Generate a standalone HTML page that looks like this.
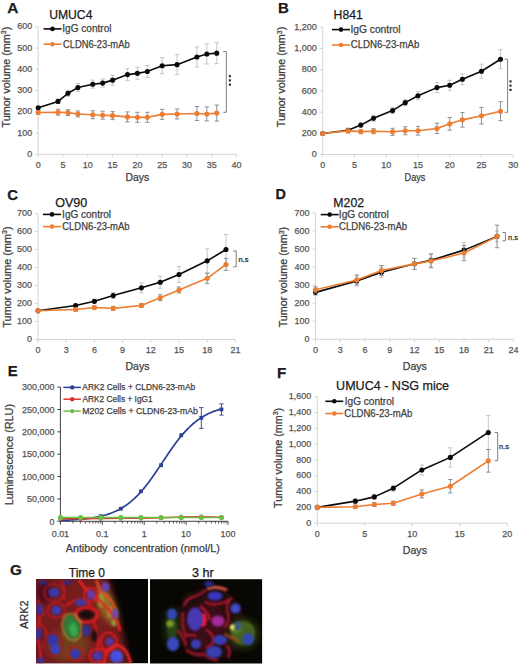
<!DOCTYPE html>
<html><head><meta charset="utf-8"><style>
html,body{margin:0;padding:0;background:#fff;}
svg{display:block;font-family:"Liberation Sans", sans-serif;}
text{stroke-width:0.25px;}
</style></head><body>
<svg width="520" height="666" viewBox="0 0 520 666">
<line x1="38.20" y1="26.80" x2="38.20" y2="154.30" stroke="#d4d4d4" stroke-width="1"/>
<line x1="38.20" y1="154.30" x2="236.60" y2="154.30" stroke="#d4d4d4" stroke-width="1"/>
<line x1="35.20" y1="154.30" x2="38.20" y2="154.30" stroke="#d4d4d4" stroke-width="1"/>
<text x="32.20" y="156.90" font-size="9.6" fill="#555555" stroke="#555555" text-anchor="end" textLength="4.99" lengthAdjust="spacingAndGlyphs" >0</text>
<line x1="35.20" y1="133.05" x2="38.20" y2="133.05" stroke="#d4d4d4" stroke-width="1"/>
<text x="32.20" y="135.65" font-size="9.6" fill="#555555" stroke="#555555" text-anchor="end" textLength="14.97" lengthAdjust="spacingAndGlyphs" >100</text>
<line x1="35.20" y1="111.80" x2="38.20" y2="111.80" stroke="#d4d4d4" stroke-width="1"/>
<text x="32.20" y="114.40" font-size="9.6" fill="#555555" stroke="#555555" text-anchor="end" textLength="14.97" lengthAdjust="spacingAndGlyphs" >200</text>
<line x1="35.20" y1="90.55" x2="38.20" y2="90.55" stroke="#d4d4d4" stroke-width="1"/>
<text x="32.20" y="93.15" font-size="9.6" fill="#555555" stroke="#555555" text-anchor="end" textLength="14.97" lengthAdjust="spacingAndGlyphs" >300</text>
<line x1="35.20" y1="69.30" x2="38.20" y2="69.30" stroke="#d4d4d4" stroke-width="1"/>
<text x="32.20" y="71.90" font-size="9.6" fill="#555555" stroke="#555555" text-anchor="end" textLength="14.97" lengthAdjust="spacingAndGlyphs" >400</text>
<line x1="35.20" y1="48.05" x2="38.20" y2="48.05" stroke="#d4d4d4" stroke-width="1"/>
<text x="32.20" y="50.65" font-size="9.6" fill="#555555" stroke="#555555" text-anchor="end" textLength="14.97" lengthAdjust="spacingAndGlyphs" >500</text>
<line x1="35.20" y1="26.80" x2="38.20" y2="26.80" stroke="#d4d4d4" stroke-width="1"/>
<text x="32.20" y="29.40" font-size="9.6" fill="#555555" stroke="#555555" text-anchor="end" textLength="14.97" lengthAdjust="spacingAndGlyphs" >600</text>
<line x1="38.20" y1="154.30" x2="38.20" y2="157.30" stroke="#d4d4d4" stroke-width="1"/>
<text x="38.20" y="167.90" font-size="9.6" fill="#555555" stroke="#555555" text-anchor="middle" textLength="4.99" lengthAdjust="spacingAndGlyphs" >0</text>
<line x1="63.00" y1="154.30" x2="63.00" y2="157.30" stroke="#d4d4d4" stroke-width="1"/>
<text x="63.00" y="167.90" font-size="9.6" fill="#555555" stroke="#555555" text-anchor="middle" textLength="4.99" lengthAdjust="spacingAndGlyphs" >5</text>
<line x1="87.80" y1="154.30" x2="87.80" y2="157.30" stroke="#d4d4d4" stroke-width="1"/>
<text x="87.80" y="167.90" font-size="9.6" fill="#555555" stroke="#555555" text-anchor="middle" textLength="9.98" lengthAdjust="spacingAndGlyphs" >10</text>
<line x1="112.60" y1="154.30" x2="112.60" y2="157.30" stroke="#d4d4d4" stroke-width="1"/>
<text x="112.60" y="167.90" font-size="9.6" fill="#555555" stroke="#555555" text-anchor="middle" textLength="9.98" lengthAdjust="spacingAndGlyphs" >15</text>
<line x1="137.40" y1="154.30" x2="137.40" y2="157.30" stroke="#d4d4d4" stroke-width="1"/>
<text x="137.40" y="167.90" font-size="9.6" fill="#555555" stroke="#555555" text-anchor="middle" textLength="9.98" lengthAdjust="spacingAndGlyphs" >20</text>
<line x1="162.20" y1="154.30" x2="162.20" y2="157.30" stroke="#d4d4d4" stroke-width="1"/>
<text x="162.20" y="167.90" font-size="9.6" fill="#555555" stroke="#555555" text-anchor="middle" textLength="9.98" lengthAdjust="spacingAndGlyphs" >25</text>
<line x1="187.00" y1="154.30" x2="187.00" y2="157.30" stroke="#d4d4d4" stroke-width="1"/>
<text x="187.00" y="167.90" font-size="9.6" fill="#555555" stroke="#555555" text-anchor="middle" textLength="9.98" lengthAdjust="spacingAndGlyphs" >30</text>
<line x1="211.80" y1="154.30" x2="211.80" y2="157.30" stroke="#d4d4d4" stroke-width="1"/>
<text x="211.80" y="167.90" font-size="9.6" fill="#555555" stroke="#555555" text-anchor="middle" textLength="9.98" lengthAdjust="spacingAndGlyphs" >35</text>
<line x1="236.60" y1="154.30" x2="236.60" y2="157.30" stroke="#d4d4d4" stroke-width="1"/>
<text x="236.60" y="167.90" font-size="9.6" fill="#555555" stroke="#555555" text-anchor="middle" textLength="9.98" lengthAdjust="spacingAndGlyphs" >40</text>
<text x="9.60" y="127.40" font-size="10.2" fill="#404040" stroke="#404040" textLength="100.7" lengthAdjust="spacingAndGlyphs" transform="rotate(-90 9.60 127.40)" >Tumor volume (mm<tspan font-size="6.6" dy="-3.6">3</tspan><tspan dy="3.6">)</tspan></text>
<text x="125.40" y="180.80" font-size="10.4" fill="#404040" stroke="#404040" textLength="23.8" lengthAdjust="spacingAndGlyphs" >Days</text>
<line x1="43.50" y1="28.90" x2="61.50" y2="28.90" stroke="#0a0a0a" stroke-width="1.6"/>
<circle cx="52.50" cy="28.90" r="2.3" fill="#0a0a0a"/>
<text x="62.34" y="32.30" font-size="10.6" fill="#404040" stroke="#404040" textLength="49.19" lengthAdjust="spacingAndGlyphs" >IgG control</text>
<line x1="43.50" y1="44.20" x2="61.50" y2="44.20" stroke="#ed7d31" stroke-width="1.6"/>
<circle cx="52.50" cy="44.20" r="2.3" fill="#ed7d31"/>
<text x="62.95" y="47.60" font-size="10.6" fill="#404040" stroke="#404040" textLength="66.69" lengthAdjust="spacingAndGlyphs" >CLDN6-23-mAb</text>
<line x1="58.04" y1="99.39" x2="58.04" y2="103.39" stroke="#c0c0c0" stroke-width="0.9"/>
<line x1="55.84" y1="99.39" x2="60.24" y2="99.39" stroke="#c0c0c0" stroke-width="0.9"/>
<line x1="55.84" y1="103.39" x2="60.24" y2="103.39" stroke="#c0c0c0" stroke-width="0.9"/>
<line x1="67.96" y1="90.31" x2="67.96" y2="96.31" stroke="#c0c0c0" stroke-width="0.9"/>
<line x1="65.76" y1="90.31" x2="70.16" y2="90.31" stroke="#c0c0c0" stroke-width="0.9"/>
<line x1="65.76" y1="96.31" x2="70.16" y2="96.31" stroke="#c0c0c0" stroke-width="0.9"/>
<line x1="77.88" y1="83.58" x2="77.88" y2="91.58" stroke="#c0c0c0" stroke-width="0.9"/>
<line x1="75.68" y1="83.58" x2="80.08" y2="83.58" stroke="#c0c0c0" stroke-width="0.9"/>
<line x1="75.68" y1="91.58" x2="80.08" y2="91.58" stroke="#c0c0c0" stroke-width="0.9"/>
<line x1="92.76" y1="80.18" x2="92.76" y2="88.18" stroke="#c0c0c0" stroke-width="0.9"/>
<line x1="90.56" y1="80.18" x2="94.96" y2="80.18" stroke="#c0c0c0" stroke-width="0.9"/>
<line x1="90.56" y1="88.18" x2="94.96" y2="88.18" stroke="#c0c0c0" stroke-width="0.9"/>
<line x1="102.68" y1="79.11" x2="102.68" y2="87.11" stroke="#c0c0c0" stroke-width="0.9"/>
<line x1="100.48" y1="79.11" x2="104.88" y2="79.11" stroke="#c0c0c0" stroke-width="0.9"/>
<line x1="100.48" y1="87.11" x2="104.88" y2="87.11" stroke="#c0c0c0" stroke-width="0.9"/>
<line x1="112.60" y1="75.14" x2="112.60" y2="85.14" stroke="#c0c0c0" stroke-width="0.9"/>
<line x1="110.40" y1="75.14" x2="114.80" y2="75.14" stroke="#c0c0c0" stroke-width="0.9"/>
<line x1="110.40" y1="85.14" x2="114.80" y2="85.14" stroke="#c0c0c0" stroke-width="0.9"/>
<line x1="127.48" y1="68.61" x2="127.48" y2="80.61" stroke="#c0c0c0" stroke-width="0.9"/>
<line x1="125.28" y1="68.61" x2="129.68" y2="68.61" stroke="#c0c0c0" stroke-width="0.9"/>
<line x1="125.28" y1="80.61" x2="129.68" y2="80.61" stroke="#c0c0c0" stroke-width="0.9"/>
<line x1="137.40" y1="67.34" x2="137.40" y2="79.34" stroke="#c0c0c0" stroke-width="0.9"/>
<line x1="135.20" y1="67.34" x2="139.60" y2="67.34" stroke="#c0c0c0" stroke-width="0.9"/>
<line x1="135.20" y1="79.34" x2="139.60" y2="79.34" stroke="#c0c0c0" stroke-width="0.9"/>
<line x1="147.32" y1="65.43" x2="147.32" y2="77.43" stroke="#c0c0c0" stroke-width="0.9"/>
<line x1="145.12" y1="65.43" x2="149.52" y2="65.43" stroke="#c0c0c0" stroke-width="0.9"/>
<line x1="145.12" y1="77.43" x2="149.52" y2="77.43" stroke="#c0c0c0" stroke-width="0.9"/>
<line x1="162.20" y1="57.69" x2="162.20" y2="73.69" stroke="#c0c0c0" stroke-width="0.9"/>
<line x1="160.00" y1="57.69" x2="164.40" y2="57.69" stroke="#c0c0c0" stroke-width="0.9"/>
<line x1="160.00" y1="73.69" x2="164.40" y2="73.69" stroke="#c0c0c0" stroke-width="0.9"/>
<line x1="177.08" y1="54.63" x2="177.08" y2="74.63" stroke="#c0c0c0" stroke-width="0.9"/>
<line x1="174.88" y1="54.63" x2="179.28" y2="54.63" stroke="#c0c0c0" stroke-width="0.9"/>
<line x1="174.88" y1="74.63" x2="179.28" y2="74.63" stroke="#c0c0c0" stroke-width="0.9"/>
<line x1="196.92" y1="46.98" x2="196.92" y2="66.98" stroke="#c0c0c0" stroke-width="0.9"/>
<line x1="194.72" y1="46.98" x2="199.12" y2="46.98" stroke="#c0c0c0" stroke-width="0.9"/>
<line x1="194.72" y1="66.98" x2="199.12" y2="66.98" stroke="#c0c0c0" stroke-width="0.9"/>
<line x1="206.84" y1="44.00" x2="206.84" y2="64.00" stroke="#c0c0c0" stroke-width="0.9"/>
<line x1="204.64" y1="44.00" x2="209.04" y2="44.00" stroke="#c0c0c0" stroke-width="0.9"/>
<line x1="204.64" y1="64.00" x2="209.04" y2="64.00" stroke="#c0c0c0" stroke-width="0.9"/>
<line x1="216.76" y1="42.65" x2="216.76" y2="63.65" stroke="#c0c0c0" stroke-width="0.9"/>
<line x1="214.56" y1="42.65" x2="218.96" y2="42.65" stroke="#c0c0c0" stroke-width="0.9"/>
<line x1="214.56" y1="63.65" x2="218.96" y2="63.65" stroke="#c0c0c0" stroke-width="0.9"/>
<polyline points="38.20,107.76 58.04,101.39 67.96,93.31 77.88,87.58 92.76,84.18 102.68,83.11 112.60,80.14 127.48,74.61 137.40,73.34 147.32,71.43 162.20,65.69 177.08,64.63 196.92,56.98 206.84,54.00 216.76,53.15" fill="none" stroke="#0a0a0a" stroke-width="1.6" stroke-linejoin="round"/>
<circle cx="38.20" cy="107.76" r="2.55" fill="#0a0a0a"/>
<circle cx="58.04" cy="101.39" r="2.55" fill="#0a0a0a"/>
<circle cx="67.96" cy="93.31" r="2.55" fill="#0a0a0a"/>
<circle cx="77.88" cy="87.58" r="2.55" fill="#0a0a0a"/>
<circle cx="92.76" cy="84.18" r="2.55" fill="#0a0a0a"/>
<circle cx="102.68" cy="83.11" r="2.55" fill="#0a0a0a"/>
<circle cx="112.60" cy="80.14" r="2.55" fill="#0a0a0a"/>
<circle cx="127.48" cy="74.61" r="2.55" fill="#0a0a0a"/>
<circle cx="137.40" cy="73.34" r="2.55" fill="#0a0a0a"/>
<circle cx="147.32" cy="71.43" r="2.55" fill="#0a0a0a"/>
<circle cx="162.20" cy="65.69" r="2.55" fill="#0a0a0a"/>
<circle cx="177.08" cy="64.63" r="2.55" fill="#0a0a0a"/>
<circle cx="196.92" cy="56.98" r="2.55" fill="#0a0a0a"/>
<circle cx="206.84" cy="54.00" r="2.55" fill="#0a0a0a"/>
<circle cx="216.76" cy="53.15" r="2.55" fill="#0a0a0a"/>
<line x1="38.20" y1="110.44" x2="38.20" y2="114.44" stroke="#808890" stroke-width="0.9"/>
<line x1="36.00" y1="110.44" x2="40.40" y2="110.44" stroke="#808890" stroke-width="0.9"/>
<line x1="36.00" y1="114.44" x2="40.40" y2="114.44" stroke="#808890" stroke-width="0.9"/>
<line x1="58.04" y1="109.23" x2="58.04" y2="115.23" stroke="#808890" stroke-width="0.9"/>
<line x1="55.84" y1="109.23" x2="60.24" y2="109.23" stroke="#808890" stroke-width="0.9"/>
<line x1="55.84" y1="115.23" x2="60.24" y2="115.23" stroke="#808890" stroke-width="0.9"/>
<line x1="67.96" y1="109.65" x2="67.96" y2="115.65" stroke="#808890" stroke-width="0.9"/>
<line x1="65.76" y1="109.65" x2="70.16" y2="109.65" stroke="#808890" stroke-width="0.9"/>
<line x1="65.76" y1="115.65" x2="70.16" y2="115.65" stroke="#808890" stroke-width="0.9"/>
<line x1="77.88" y1="110.93" x2="77.88" y2="116.93" stroke="#808890" stroke-width="0.9"/>
<line x1="75.68" y1="110.93" x2="80.08" y2="110.93" stroke="#808890" stroke-width="0.9"/>
<line x1="75.68" y1="116.93" x2="80.08" y2="116.93" stroke="#808890" stroke-width="0.9"/>
<line x1="92.76" y1="110.78" x2="92.76" y2="118.78" stroke="#808890" stroke-width="0.9"/>
<line x1="90.56" y1="110.78" x2="94.96" y2="110.78" stroke="#808890" stroke-width="0.9"/>
<line x1="90.56" y1="118.78" x2="94.96" y2="118.78" stroke="#808890" stroke-width="0.9"/>
<line x1="102.68" y1="111.20" x2="102.68" y2="119.20" stroke="#808890" stroke-width="0.9"/>
<line x1="100.48" y1="111.20" x2="104.88" y2="111.20" stroke="#808890" stroke-width="0.9"/>
<line x1="100.48" y1="119.20" x2="104.88" y2="119.20" stroke="#808890" stroke-width="0.9"/>
<line x1="112.60" y1="111.63" x2="112.60" y2="119.63" stroke="#808890" stroke-width="0.9"/>
<line x1="110.40" y1="111.63" x2="114.80" y2="111.63" stroke="#808890" stroke-width="0.9"/>
<line x1="110.40" y1="119.63" x2="114.80" y2="119.63" stroke="#808890" stroke-width="0.9"/>
<line x1="127.48" y1="111.90" x2="127.48" y2="121.90" stroke="#808890" stroke-width="0.9"/>
<line x1="125.28" y1="111.90" x2="129.68" y2="111.90" stroke="#808890" stroke-width="0.9"/>
<line x1="125.28" y1="121.90" x2="129.68" y2="121.90" stroke="#808890" stroke-width="0.9"/>
<line x1="137.40" y1="112.33" x2="137.40" y2="122.33" stroke="#808890" stroke-width="0.9"/>
<line x1="135.20" y1="112.33" x2="139.60" y2="112.33" stroke="#808890" stroke-width="0.9"/>
<line x1="135.20" y1="122.33" x2="139.60" y2="122.33" stroke="#808890" stroke-width="0.9"/>
<line x1="147.32" y1="112.33" x2="147.32" y2="122.33" stroke="#808890" stroke-width="0.9"/>
<line x1="145.12" y1="112.33" x2="149.52" y2="112.33" stroke="#808890" stroke-width="0.9"/>
<line x1="145.12" y1="122.33" x2="149.52" y2="122.33" stroke="#808890" stroke-width="0.9"/>
<line x1="162.20" y1="109.35" x2="162.20" y2="119.35" stroke="#808890" stroke-width="0.9"/>
<line x1="160.00" y1="109.35" x2="164.40" y2="109.35" stroke="#808890" stroke-width="0.9"/>
<line x1="160.00" y1="119.35" x2="164.40" y2="119.35" stroke="#808890" stroke-width="0.9"/>
<line x1="177.08" y1="108.93" x2="177.08" y2="118.93" stroke="#808890" stroke-width="0.9"/>
<line x1="174.88" y1="108.93" x2="179.28" y2="108.93" stroke="#808890" stroke-width="0.9"/>
<line x1="174.88" y1="118.93" x2="179.28" y2="118.93" stroke="#808890" stroke-width="0.9"/>
<line x1="196.92" y1="106.50" x2="196.92" y2="120.50" stroke="#808890" stroke-width="0.9"/>
<line x1="194.72" y1="106.50" x2="199.12" y2="106.50" stroke="#808890" stroke-width="0.9"/>
<line x1="194.72" y1="120.50" x2="199.12" y2="120.50" stroke="#808890" stroke-width="0.9"/>
<line x1="206.84" y1="106.93" x2="206.84" y2="120.93" stroke="#808890" stroke-width="0.9"/>
<line x1="204.64" y1="106.93" x2="209.04" y2="106.93" stroke="#808890" stroke-width="0.9"/>
<line x1="204.64" y1="120.93" x2="209.04" y2="120.93" stroke="#808890" stroke-width="0.9"/>
<line x1="216.76" y1="105.08" x2="216.76" y2="121.08" stroke="#808890" stroke-width="0.9"/>
<line x1="214.56" y1="105.08" x2="218.96" y2="105.08" stroke="#808890" stroke-width="0.9"/>
<line x1="214.56" y1="121.08" x2="218.96" y2="121.08" stroke="#808890" stroke-width="0.9"/>
<polyline points="38.20,112.44 58.04,112.23 67.96,112.65 77.88,113.93 92.76,114.78 102.68,115.20 112.60,115.63 127.48,116.90 137.40,117.33 147.32,117.33 162.20,114.35 177.08,113.93 196.92,113.50 206.84,113.93 216.76,113.08" fill="none" stroke="#ed7d31" stroke-width="1.6" stroke-linejoin="round"/>
<circle cx="38.20" cy="112.44" r="2.55" fill="#ed7d31"/>
<circle cx="58.04" cy="112.23" r="2.55" fill="#ed7d31"/>
<circle cx="67.96" cy="112.65" r="2.55" fill="#ed7d31"/>
<circle cx="77.88" cy="113.93" r="2.55" fill="#ed7d31"/>
<circle cx="92.76" cy="114.78" r="2.55" fill="#ed7d31"/>
<circle cx="102.68" cy="115.20" r="2.55" fill="#ed7d31"/>
<circle cx="112.60" cy="115.63" r="2.55" fill="#ed7d31"/>
<circle cx="127.48" cy="116.90" r="2.55" fill="#ed7d31"/>
<circle cx="137.40" cy="117.33" r="2.55" fill="#ed7d31"/>
<circle cx="147.32" cy="117.33" r="2.55" fill="#ed7d31"/>
<circle cx="162.20" cy="114.35" r="2.55" fill="#ed7d31"/>
<circle cx="177.08" cy="113.93" r="2.55" fill="#ed7d31"/>
<circle cx="196.92" cy="113.50" r="2.55" fill="#ed7d31"/>
<circle cx="206.84" cy="113.93" r="2.55" fill="#ed7d31"/>
<circle cx="216.76" cy="113.08" r="2.55" fill="#ed7d31"/>
<polyline points="223.30,51.50 226.30,51.50 226.30,112.30 223.30,112.30" fill="none" stroke="#707070" stroke-width="0.9"/>
<rect x="228.80" y="75.00" width="2.2" height="2.2" rx="0.5" fill="#333"/>
<rect x="228.80" y="79.30" width="2.2" height="2.2" rx="0.5" fill="#333"/>
<rect x="228.80" y="83.60" width="2.2" height="2.2" rx="0.5" fill="#333"/>
<line x1="322.70" y1="27.30" x2="322.70" y2="154.50" stroke="#d4d4d4" stroke-width="1"/>
<line x1="322.70" y1="154.50" x2="513.00" y2="154.50" stroke="#d4d4d4" stroke-width="1"/>
<line x1="319.70" y1="154.50" x2="322.70" y2="154.50" stroke="#d4d4d4" stroke-width="1"/>
<text x="316.70" y="157.10" font-size="9.6" fill="#555555" stroke="#555555" text-anchor="end" textLength="4.99" lengthAdjust="spacingAndGlyphs" >0</text>
<line x1="319.70" y1="133.30" x2="322.70" y2="133.30" stroke="#d4d4d4" stroke-width="1"/>
<text x="316.70" y="135.90" font-size="9.6" fill="#555555" stroke="#555555" text-anchor="end" textLength="14.97" lengthAdjust="spacingAndGlyphs" >200</text>
<line x1="319.70" y1="112.10" x2="322.70" y2="112.10" stroke="#d4d4d4" stroke-width="1"/>
<text x="316.70" y="114.70" font-size="9.6" fill="#555555" stroke="#555555" text-anchor="end" textLength="14.97" lengthAdjust="spacingAndGlyphs" >400</text>
<line x1="319.70" y1="90.90" x2="322.70" y2="90.90" stroke="#d4d4d4" stroke-width="1"/>
<text x="316.70" y="93.50" font-size="9.6" fill="#555555" stroke="#555555" text-anchor="end" textLength="14.97" lengthAdjust="spacingAndGlyphs" >600</text>
<line x1="319.70" y1="69.70" x2="322.70" y2="69.70" stroke="#d4d4d4" stroke-width="1"/>
<text x="316.70" y="72.30" font-size="9.6" fill="#555555" stroke="#555555" text-anchor="end" textLength="14.97" lengthAdjust="spacingAndGlyphs" >800</text>
<line x1="319.70" y1="48.50" x2="322.70" y2="48.50" stroke="#d4d4d4" stroke-width="1"/>
<text x="316.70" y="51.10" font-size="9.6" fill="#555555" stroke="#555555" text-anchor="end" textLength="22.46" lengthAdjust="spacingAndGlyphs" >1,000</text>
<line x1="319.70" y1="27.30" x2="322.70" y2="27.30" stroke="#d4d4d4" stroke-width="1"/>
<text x="316.70" y="29.90" font-size="9.6" fill="#555555" stroke="#555555" text-anchor="end" textLength="22.46" lengthAdjust="spacingAndGlyphs" >1,200</text>
<line x1="322.70" y1="154.50" x2="322.70" y2="157.50" stroke="#d4d4d4" stroke-width="1"/>
<text x="322.70" y="168.10" font-size="9.6" fill="#555555" stroke="#555555" text-anchor="middle" textLength="4.99" lengthAdjust="spacingAndGlyphs" >0</text>
<line x1="354.45" y1="154.50" x2="354.45" y2="157.50" stroke="#d4d4d4" stroke-width="1"/>
<text x="354.45" y="168.10" font-size="9.6" fill="#555555" stroke="#555555" text-anchor="middle" textLength="4.99" lengthAdjust="spacingAndGlyphs" >5</text>
<line x1="386.20" y1="154.50" x2="386.20" y2="157.50" stroke="#d4d4d4" stroke-width="1"/>
<text x="386.20" y="168.10" font-size="9.6" fill="#555555" stroke="#555555" text-anchor="middle" textLength="9.98" lengthAdjust="spacingAndGlyphs" >10</text>
<line x1="417.95" y1="154.50" x2="417.95" y2="157.50" stroke="#d4d4d4" stroke-width="1"/>
<text x="417.95" y="168.10" font-size="9.6" fill="#555555" stroke="#555555" text-anchor="middle" textLength="9.98" lengthAdjust="spacingAndGlyphs" >15</text>
<line x1="449.70" y1="154.50" x2="449.70" y2="157.50" stroke="#d4d4d4" stroke-width="1"/>
<text x="449.70" y="168.10" font-size="9.6" fill="#555555" stroke="#555555" text-anchor="middle" textLength="9.98" lengthAdjust="spacingAndGlyphs" >20</text>
<line x1="481.45" y1="154.50" x2="481.45" y2="157.50" stroke="#d4d4d4" stroke-width="1"/>
<text x="481.45" y="168.10" font-size="9.6" fill="#555555" stroke="#555555" text-anchor="middle" textLength="9.98" lengthAdjust="spacingAndGlyphs" >25</text>
<line x1="513.20" y1="154.50" x2="513.20" y2="157.50" stroke="#d4d4d4" stroke-width="1"/>
<text x="513.20" y="168.10" font-size="9.6" fill="#555555" stroke="#555555" text-anchor="middle" textLength="9.98" lengthAdjust="spacingAndGlyphs" >30</text>
<text x="285.20" y="127.30" font-size="10.2" fill="#404040" stroke="#404040" textLength="100.6" lengthAdjust="spacingAndGlyphs" transform="rotate(-90 285.20 127.30)" >Tumor volume (mm<tspan font-size="6.6" dy="-3.6">3</tspan><tspan dy="3.6">)</tspan></text>
<text x="404.60" y="180.80" font-size="10.4" fill="#404040" stroke="#404040" textLength="20.8" lengthAdjust="spacingAndGlyphs" >Days</text>
<line x1="332.00" y1="29.60" x2="350.00" y2="29.60" stroke="#0a0a0a" stroke-width="1.6"/>
<circle cx="341.00" cy="29.60" r="2.3" fill="#0a0a0a"/>
<text x="350.40" y="33.00" font-size="10.6" fill="#404040" stroke="#404040" textLength="50.18" lengthAdjust="spacingAndGlyphs" >IgG control</text>
<line x1="332.00" y1="45.00" x2="350.00" y2="45.00" stroke="#ed7d31" stroke-width="1.6"/>
<circle cx="341.00" cy="45.00" r="2.3" fill="#ed7d31"/>
<text x="350.73" y="48.40" font-size="10.6" fill="#404040" stroke="#404040" textLength="68.72" lengthAdjust="spacingAndGlyphs" >CLDN6-23-mAb</text>
<line x1="348.10" y1="128.25" x2="348.10" y2="132.25" stroke="#c0c0c0" stroke-width="0.9"/>
<line x1="345.90" y1="128.25" x2="350.30" y2="128.25" stroke="#c0c0c0" stroke-width="0.9"/>
<line x1="345.90" y1="132.25" x2="350.30" y2="132.25" stroke="#c0c0c0" stroke-width="0.9"/>
<line x1="360.80" y1="123.10" x2="360.80" y2="127.10" stroke="#c0c0c0" stroke-width="0.9"/>
<line x1="358.60" y1="123.10" x2="363.00" y2="123.10" stroke="#c0c0c0" stroke-width="0.9"/>
<line x1="358.60" y1="127.10" x2="363.00" y2="127.10" stroke="#c0c0c0" stroke-width="0.9"/>
<line x1="373.50" y1="115.28" x2="373.50" y2="121.28" stroke="#c0c0c0" stroke-width="0.9"/>
<line x1="371.30" y1="115.28" x2="375.70" y2="115.28" stroke="#c0c0c0" stroke-width="0.9"/>
<line x1="371.30" y1="121.28" x2="375.70" y2="121.28" stroke="#c0c0c0" stroke-width="0.9"/>
<line x1="392.55" y1="107.61" x2="392.55" y2="113.61" stroke="#c0c0c0" stroke-width="0.9"/>
<line x1="390.35" y1="107.61" x2="394.75" y2="107.61" stroke="#c0c0c0" stroke-width="0.9"/>
<line x1="390.35" y1="113.61" x2="394.75" y2="113.61" stroke="#c0c0c0" stroke-width="0.9"/>
<line x1="405.25" y1="99.63" x2="405.25" y2="105.63" stroke="#c0c0c0" stroke-width="0.9"/>
<line x1="403.05" y1="99.63" x2="407.45" y2="99.63" stroke="#c0c0c0" stroke-width="0.9"/>
<line x1="403.05" y1="105.63" x2="407.45" y2="105.63" stroke="#c0c0c0" stroke-width="0.9"/>
<line x1="417.95" y1="91.70" x2="417.95" y2="99.70" stroke="#c0c0c0" stroke-width="0.9"/>
<line x1="415.75" y1="91.70" x2="420.15" y2="91.70" stroke="#c0c0c0" stroke-width="0.9"/>
<line x1="415.75" y1="99.70" x2="420.15" y2="99.70" stroke="#c0c0c0" stroke-width="0.9"/>
<line x1="437.00" y1="82.62" x2="437.00" y2="92.62" stroke="#c0c0c0" stroke-width="0.9"/>
<line x1="434.80" y1="82.62" x2="439.20" y2="82.62" stroke="#c0c0c0" stroke-width="0.9"/>
<line x1="434.80" y1="92.62" x2="439.20" y2="92.62" stroke="#c0c0c0" stroke-width="0.9"/>
<line x1="449.70" y1="80.31" x2="449.70" y2="90.31" stroke="#c0c0c0" stroke-width="0.9"/>
<line x1="447.50" y1="80.31" x2="451.90" y2="80.31" stroke="#c0c0c0" stroke-width="0.9"/>
<line x1="447.50" y1="90.31" x2="451.90" y2="90.31" stroke="#c0c0c0" stroke-width="0.9"/>
<line x1="462.40" y1="73.92" x2="462.40" y2="84.72" stroke="#c0c0c0" stroke-width="0.9"/>
<line x1="460.20" y1="73.92" x2="464.60" y2="73.92" stroke="#c0c0c0" stroke-width="0.9"/>
<line x1="460.20" y1="84.72" x2="464.60" y2="84.72" stroke="#c0c0c0" stroke-width="0.9"/>
<line x1="481.45" y1="64.23" x2="481.45" y2="78.23" stroke="#c0c0c0" stroke-width="0.9"/>
<line x1="479.25" y1="64.23" x2="483.65" y2="64.23" stroke="#c0c0c0" stroke-width="0.9"/>
<line x1="479.25" y1="78.23" x2="483.65" y2="78.23" stroke="#c0c0c0" stroke-width="0.9"/>
<line x1="500.50" y1="49.77" x2="500.50" y2="68.77" stroke="#c0c0c0" stroke-width="0.9"/>
<line x1="498.30" y1="49.77" x2="502.70" y2="49.77" stroke="#c0c0c0" stroke-width="0.9"/>
<line x1="498.30" y1="68.77" x2="502.70" y2="68.77" stroke="#c0c0c0" stroke-width="0.9"/>
<polyline points="322.70,133.50 348.10,130.25 360.80,125.10 373.50,118.28 392.55,110.61 405.25,102.63 417.95,95.70 437.00,87.62 449.70,85.31 462.40,79.32 481.45,71.23 500.50,59.27" fill="none" stroke="#0a0a0a" stroke-width="1.6" stroke-linejoin="round"/>
<circle cx="322.70" cy="133.50" r="2.55" fill="#0a0a0a"/>
<circle cx="348.10" cy="130.25" r="2.55" fill="#0a0a0a"/>
<circle cx="360.80" cy="125.10" r="2.55" fill="#0a0a0a"/>
<circle cx="373.50" cy="118.28" r="2.55" fill="#0a0a0a"/>
<circle cx="392.55" cy="110.61" r="2.55" fill="#0a0a0a"/>
<circle cx="405.25" cy="102.63" r="2.55" fill="#0a0a0a"/>
<circle cx="417.95" cy="95.70" r="2.55" fill="#0a0a0a"/>
<circle cx="437.00" cy="87.62" r="2.55" fill="#0a0a0a"/>
<circle cx="449.70" cy="85.31" r="2.55" fill="#0a0a0a"/>
<circle cx="462.40" cy="79.32" r="2.55" fill="#0a0a0a"/>
<circle cx="481.45" cy="71.23" r="2.55" fill="#0a0a0a"/>
<circle cx="500.50" cy="59.27" r="2.55" fill="#0a0a0a"/>
<line x1="348.10" y1="128.88" x2="348.10" y2="132.88" stroke="#808890" stroke-width="0.9"/>
<line x1="345.90" y1="128.88" x2="350.30" y2="128.88" stroke="#808890" stroke-width="0.9"/>
<line x1="345.90" y1="132.88" x2="350.30" y2="132.88" stroke="#808890" stroke-width="0.9"/>
<line x1="360.80" y1="129.61" x2="360.80" y2="133.61" stroke="#808890" stroke-width="0.9"/>
<line x1="358.60" y1="129.61" x2="363.00" y2="129.61" stroke="#808890" stroke-width="0.9"/>
<line x1="358.60" y1="133.61" x2="363.00" y2="133.61" stroke="#808890" stroke-width="0.9"/>
<line x1="373.50" y1="128.69" x2="373.50" y2="133.69" stroke="#808890" stroke-width="0.9"/>
<line x1="371.30" y1="128.69" x2="375.70" y2="128.69" stroke="#808890" stroke-width="0.9"/>
<line x1="371.30" y1="133.69" x2="375.70" y2="133.69" stroke="#808890" stroke-width="0.9"/>
<line x1="392.55" y1="128.32" x2="392.55" y2="135.32" stroke="#808890" stroke-width="0.9"/>
<line x1="390.35" y1="128.32" x2="394.75" y2="128.32" stroke="#808890" stroke-width="0.9"/>
<line x1="390.35" y1="135.32" x2="394.75" y2="135.32" stroke="#808890" stroke-width="0.9"/>
<line x1="405.25" y1="126.77" x2="405.25" y2="134.77" stroke="#808890" stroke-width="0.9"/>
<line x1="403.05" y1="126.77" x2="407.45" y2="126.77" stroke="#808890" stroke-width="0.9"/>
<line x1="403.05" y1="134.77" x2="407.45" y2="134.77" stroke="#808890" stroke-width="0.9"/>
<line x1="417.95" y1="126.37" x2="417.95" y2="135.17" stroke="#808890" stroke-width="0.9"/>
<line x1="415.75" y1="126.37" x2="420.15" y2="126.37" stroke="#808890" stroke-width="0.9"/>
<line x1="415.75" y1="135.17" x2="420.15" y2="135.17" stroke="#808890" stroke-width="0.9"/>
<line x1="437.00" y1="123.26" x2="437.00" y2="133.66" stroke="#808890" stroke-width="0.9"/>
<line x1="434.80" y1="123.26" x2="439.20" y2="123.26" stroke="#808890" stroke-width="0.9"/>
<line x1="434.80" y1="133.66" x2="439.20" y2="133.66" stroke="#808890" stroke-width="0.9"/>
<line x1="449.70" y1="117.54" x2="449.70" y2="130.14" stroke="#808890" stroke-width="0.9"/>
<line x1="447.50" y1="117.54" x2="451.90" y2="117.54" stroke="#808890" stroke-width="0.9"/>
<line x1="447.50" y1="130.14" x2="451.90" y2="130.14" stroke="#808890" stroke-width="0.9"/>
<line x1="462.40" y1="112.55" x2="462.40" y2="127.15" stroke="#808890" stroke-width="0.9"/>
<line x1="460.20" y1="112.55" x2="464.60" y2="112.55" stroke="#808890" stroke-width="0.9"/>
<line x1="460.20" y1="127.15" x2="464.60" y2="127.15" stroke="#808890" stroke-width="0.9"/>
<line x1="481.45" y1="107.45" x2="481.45" y2="124.05" stroke="#808890" stroke-width="0.9"/>
<line x1="479.25" y1="107.45" x2="483.65" y2="107.45" stroke="#808890" stroke-width="0.9"/>
<line x1="479.25" y1="124.05" x2="483.65" y2="124.05" stroke="#808890" stroke-width="0.9"/>
<line x1="500.50" y1="101.74" x2="500.50" y2="120.74" stroke="#808890" stroke-width="0.9"/>
<line x1="498.30" y1="101.74" x2="502.70" y2="101.74" stroke="#808890" stroke-width="0.9"/>
<line x1="498.30" y1="120.74" x2="502.70" y2="120.74" stroke="#808890" stroke-width="0.9"/>
<polyline points="322.70,133.50 348.10,130.88 360.80,131.61 373.50,131.19 392.55,131.82 405.25,130.77 417.95,130.77 437.00,128.46 449.70,123.84 462.40,119.85 481.45,115.75 500.50,111.24" fill="none" stroke="#ed7d31" stroke-width="1.6" stroke-linejoin="round"/>
<circle cx="322.70" cy="133.50" r="2.55" fill="#ed7d31"/>
<circle cx="348.10" cy="130.88" r="2.55" fill="#ed7d31"/>
<circle cx="360.80" cy="131.61" r="2.55" fill="#ed7d31"/>
<circle cx="373.50" cy="131.19" r="2.55" fill="#ed7d31"/>
<circle cx="392.55" cy="131.82" r="2.55" fill="#ed7d31"/>
<circle cx="405.25" cy="130.77" r="2.55" fill="#ed7d31"/>
<circle cx="417.95" cy="130.77" r="2.55" fill="#ed7d31"/>
<circle cx="437.00" cy="128.46" r="2.55" fill="#ed7d31"/>
<circle cx="449.70" cy="123.84" r="2.55" fill="#ed7d31"/>
<circle cx="462.40" cy="119.85" r="2.55" fill="#ed7d31"/>
<circle cx="481.45" cy="115.75" r="2.55" fill="#ed7d31"/>
<circle cx="500.50" cy="111.24" r="2.55" fill="#ed7d31"/>
<polyline points="504.60,59.20 507.60,59.20 507.60,112.30 504.60,112.30" fill="none" stroke="#707070" stroke-width="0.9"/>
<rect x="509.40" y="80.20" width="2.2" height="2.2" rx="0.5" fill="#333"/>
<rect x="509.40" y="84.50" width="2.2" height="2.2" rx="0.5" fill="#333"/>
<rect x="509.40" y="88.80" width="2.2" height="2.2" rx="0.5" fill="#333"/>
<line x1="38.00" y1="213.50" x2="38.00" y2="339.50" stroke="#d4d4d4" stroke-width="1"/>
<line x1="38.00" y1="339.50" x2="235.40" y2="339.50" stroke="#d4d4d4" stroke-width="1"/>
<line x1="35.00" y1="339.50" x2="38.00" y2="339.50" stroke="#d4d4d4" stroke-width="1"/>
<text x="32.00" y="342.10" font-size="9.6" fill="#555555" stroke="#555555" text-anchor="end" textLength="4.99" lengthAdjust="spacingAndGlyphs" >0</text>
<line x1="35.00" y1="321.50" x2="38.00" y2="321.50" stroke="#d4d4d4" stroke-width="1"/>
<text x="32.00" y="324.10" font-size="9.6" fill="#555555" stroke="#555555" text-anchor="end" textLength="14.97" lengthAdjust="spacingAndGlyphs" >100</text>
<line x1="35.00" y1="303.50" x2="38.00" y2="303.50" stroke="#d4d4d4" stroke-width="1"/>
<text x="32.00" y="306.10" font-size="9.6" fill="#555555" stroke="#555555" text-anchor="end" textLength="14.97" lengthAdjust="spacingAndGlyphs" >200</text>
<line x1="35.00" y1="285.50" x2="38.00" y2="285.50" stroke="#d4d4d4" stroke-width="1"/>
<text x="32.00" y="288.10" font-size="9.6" fill="#555555" stroke="#555555" text-anchor="end" textLength="14.97" lengthAdjust="spacingAndGlyphs" >300</text>
<line x1="35.00" y1="267.50" x2="38.00" y2="267.50" stroke="#d4d4d4" stroke-width="1"/>
<text x="32.00" y="270.10" font-size="9.6" fill="#555555" stroke="#555555" text-anchor="end" textLength="14.97" lengthAdjust="spacingAndGlyphs" >400</text>
<line x1="35.00" y1="249.50" x2="38.00" y2="249.50" stroke="#d4d4d4" stroke-width="1"/>
<text x="32.00" y="252.10" font-size="9.6" fill="#555555" stroke="#555555" text-anchor="end" textLength="14.97" lengthAdjust="spacingAndGlyphs" >500</text>
<line x1="35.00" y1="231.50" x2="38.00" y2="231.50" stroke="#d4d4d4" stroke-width="1"/>
<text x="32.00" y="234.10" font-size="9.6" fill="#555555" stroke="#555555" text-anchor="end" textLength="14.97" lengthAdjust="spacingAndGlyphs" >600</text>
<line x1="35.00" y1="213.50" x2="38.00" y2="213.50" stroke="#d4d4d4" stroke-width="1"/>
<text x="32.00" y="216.10" font-size="9.6" fill="#555555" stroke="#555555" text-anchor="end" textLength="14.97" lengthAdjust="spacingAndGlyphs" >700</text>
<line x1="38.00" y1="339.50" x2="38.00" y2="342.50" stroke="#d4d4d4" stroke-width="1"/>
<text x="38.00" y="353.10" font-size="9.6" fill="#555555" stroke="#555555" text-anchor="middle" textLength="4.99" lengthAdjust="spacingAndGlyphs" >0</text>
<line x1="66.20" y1="339.50" x2="66.20" y2="342.50" stroke="#d4d4d4" stroke-width="1"/>
<text x="66.20" y="353.10" font-size="9.6" fill="#555555" stroke="#555555" text-anchor="middle" textLength="4.99" lengthAdjust="spacingAndGlyphs" >3</text>
<line x1="94.40" y1="339.50" x2="94.40" y2="342.50" stroke="#d4d4d4" stroke-width="1"/>
<text x="94.40" y="353.10" font-size="9.6" fill="#555555" stroke="#555555" text-anchor="middle" textLength="4.99" lengthAdjust="spacingAndGlyphs" >6</text>
<line x1="122.60" y1="339.50" x2="122.60" y2="342.50" stroke="#d4d4d4" stroke-width="1"/>
<text x="122.60" y="353.10" font-size="9.6" fill="#555555" stroke="#555555" text-anchor="middle" textLength="4.99" lengthAdjust="spacingAndGlyphs" >9</text>
<line x1="150.80" y1="339.50" x2="150.80" y2="342.50" stroke="#d4d4d4" stroke-width="1"/>
<text x="150.80" y="353.10" font-size="9.6" fill="#555555" stroke="#555555" text-anchor="middle" textLength="9.98" lengthAdjust="spacingAndGlyphs" >12</text>
<line x1="179.00" y1="339.50" x2="179.00" y2="342.50" stroke="#d4d4d4" stroke-width="1"/>
<text x="179.00" y="353.10" font-size="9.6" fill="#555555" stroke="#555555" text-anchor="middle" textLength="9.98" lengthAdjust="spacingAndGlyphs" >15</text>
<line x1="207.20" y1="339.50" x2="207.20" y2="342.50" stroke="#d4d4d4" stroke-width="1"/>
<text x="207.20" y="353.10" font-size="9.6" fill="#555555" stroke="#555555" text-anchor="middle" textLength="9.98" lengthAdjust="spacingAndGlyphs" >18</text>
<line x1="235.40" y1="339.50" x2="235.40" y2="342.50" stroke="#d4d4d4" stroke-width="1"/>
<text x="235.40" y="353.10" font-size="9.6" fill="#555555" stroke="#555555" text-anchor="middle" textLength="9.98" lengthAdjust="spacingAndGlyphs" >21</text>
<text x="10.70" y="327.60" font-size="10.2" fill="#404040" stroke="#404040" textLength="101.2" lengthAdjust="spacingAndGlyphs" transform="rotate(-90 10.70 327.60)" >Tumor volume (mm<tspan font-size="6.6" dy="-3.6">3</tspan><tspan dy="3.6">)</tspan></text>
<text x="125.40" y="369.70" font-size="10.4" fill="#404040" stroke="#404040" textLength="24.1" lengthAdjust="spacingAndGlyphs" >Days</text>
<line x1="43.00" y1="214.40" x2="61.00" y2="214.40" stroke="#0a0a0a" stroke-width="1.6"/>
<circle cx="52.00" cy="214.40" r="2.3" fill="#0a0a0a"/>
<text x="62.12" y="217.80" font-size="10.6" fill="#404040" stroke="#404040" textLength="48.92" lengthAdjust="spacingAndGlyphs" >IgG control</text>
<line x1="43.00" y1="226.60" x2="61.00" y2="226.60" stroke="#ed7d31" stroke-width="1.6"/>
<circle cx="52.00" cy="226.60" r="2.3" fill="#ed7d31"/>
<text x="62.24" y="230.00" font-size="10.6" fill="#404040" stroke="#404040" textLength="67.36" lengthAdjust="spacingAndGlyphs" >CLDN6-23-mAb</text>
<line x1="75.60" y1="303.48" x2="75.60" y2="307.48" stroke="#c0c0c0" stroke-width="0.9"/>
<line x1="73.40" y1="303.48" x2="77.80" y2="303.48" stroke="#c0c0c0" stroke-width="0.9"/>
<line x1="73.40" y1="307.48" x2="77.80" y2="307.48" stroke="#c0c0c0" stroke-width="0.9"/>
<line x1="94.40" y1="299.34" x2="94.40" y2="303.34" stroke="#c0c0c0" stroke-width="0.9"/>
<line x1="92.20" y1="299.34" x2="96.60" y2="299.34" stroke="#c0c0c0" stroke-width="0.9"/>
<line x1="92.20" y1="303.34" x2="96.60" y2="303.34" stroke="#c0c0c0" stroke-width="0.9"/>
<line x1="113.20" y1="292.58" x2="113.20" y2="298.58" stroke="#c0c0c0" stroke-width="0.9"/>
<line x1="111.00" y1="292.58" x2="115.40" y2="292.58" stroke="#c0c0c0" stroke-width="0.9"/>
<line x1="111.00" y1="298.58" x2="115.40" y2="298.58" stroke="#c0c0c0" stroke-width="0.9"/>
<line x1="141.40" y1="282.84" x2="141.40" y2="292.84" stroke="#c0c0c0" stroke-width="0.9"/>
<line x1="139.20" y1="282.84" x2="143.60" y2="282.84" stroke="#c0c0c0" stroke-width="0.9"/>
<line x1="139.20" y1="292.84" x2="143.60" y2="292.84" stroke="#c0c0c0" stroke-width="0.9"/>
<line x1="160.20" y1="276.26" x2="160.20" y2="288.26" stroke="#c0c0c0" stroke-width="0.9"/>
<line x1="158.00" y1="276.26" x2="162.40" y2="276.26" stroke="#c0c0c0" stroke-width="0.9"/>
<line x1="158.00" y1="288.26" x2="162.40" y2="288.26" stroke="#c0c0c0" stroke-width="0.9"/>
<line x1="179.00" y1="266.52" x2="179.00" y2="282.52" stroke="#c0c0c0" stroke-width="0.9"/>
<line x1="176.80" y1="266.52" x2="181.20" y2="266.52" stroke="#c0c0c0" stroke-width="0.9"/>
<line x1="176.80" y1="282.52" x2="181.20" y2="282.52" stroke="#c0c0c0" stroke-width="0.9"/>
<line x1="207.20" y1="248.84" x2="207.20" y2="272.84" stroke="#c0c0c0" stroke-width="0.9"/>
<line x1="205.00" y1="248.84" x2="209.40" y2="248.84" stroke="#c0c0c0" stroke-width="0.9"/>
<line x1="205.00" y1="272.84" x2="209.40" y2="272.84" stroke="#c0c0c0" stroke-width="0.9"/>
<line x1="226.00" y1="234.50" x2="226.00" y2="264.50" stroke="#c0c0c0" stroke-width="0.9"/>
<line x1="223.80" y1="234.50" x2="228.20" y2="234.50" stroke="#c0c0c0" stroke-width="0.9"/>
<line x1="223.80" y1="264.50" x2="228.20" y2="264.50" stroke="#c0c0c0" stroke-width="0.9"/>
<polyline points="38.00,310.70 75.60,305.48 94.40,301.34 113.20,295.58 141.40,287.84 160.20,282.26 179.00,274.52 207.20,260.84 226.00,249.50" fill="none" stroke="#0a0a0a" stroke-width="1.6" stroke-linejoin="round"/>
<circle cx="38.00" cy="310.70" r="2.55" fill="#0a0a0a"/>
<circle cx="75.60" cy="305.48" r="2.55" fill="#0a0a0a"/>
<circle cx="94.40" cy="301.34" r="2.55" fill="#0a0a0a"/>
<circle cx="113.20" cy="295.58" r="2.55" fill="#0a0a0a"/>
<circle cx="141.40" cy="287.84" r="2.55" fill="#0a0a0a"/>
<circle cx="160.20" cy="282.26" r="2.55" fill="#0a0a0a"/>
<circle cx="179.00" cy="274.52" r="2.55" fill="#0a0a0a"/>
<circle cx="207.20" cy="260.84" r="2.55" fill="#0a0a0a"/>
<circle cx="226.00" cy="249.50" r="2.55" fill="#0a0a0a"/>
<line x1="75.60" y1="307.94" x2="75.60" y2="310.94" stroke="#808890" stroke-width="0.9"/>
<line x1="73.40" y1="307.94" x2="77.80" y2="307.94" stroke="#808890" stroke-width="0.9"/>
<line x1="73.40" y1="310.94" x2="77.80" y2="310.94" stroke="#808890" stroke-width="0.9"/>
<line x1="94.40" y1="305.96" x2="94.40" y2="308.96" stroke="#808890" stroke-width="0.9"/>
<line x1="92.20" y1="305.96" x2="96.60" y2="305.96" stroke="#808890" stroke-width="0.9"/>
<line x1="92.20" y1="308.96" x2="96.60" y2="308.96" stroke="#808890" stroke-width="0.9"/>
<line x1="113.20" y1="306.36" x2="113.20" y2="310.36" stroke="#808890" stroke-width="0.9"/>
<line x1="111.00" y1="306.36" x2="115.40" y2="306.36" stroke="#808890" stroke-width="0.9"/>
<line x1="111.00" y1="310.36" x2="115.40" y2="310.36" stroke="#808890" stroke-width="0.9"/>
<line x1="141.40" y1="303.48" x2="141.40" y2="307.48" stroke="#808890" stroke-width="0.9"/>
<line x1="139.20" y1="303.48" x2="143.60" y2="303.48" stroke="#808890" stroke-width="0.9"/>
<line x1="139.20" y1="307.48" x2="143.60" y2="307.48" stroke="#808890" stroke-width="0.9"/>
<line x1="160.20" y1="294.74" x2="160.20" y2="300.74" stroke="#808890" stroke-width="0.9"/>
<line x1="158.00" y1="294.74" x2="162.40" y2="294.74" stroke="#808890" stroke-width="0.9"/>
<line x1="158.00" y1="300.74" x2="162.40" y2="300.74" stroke="#808890" stroke-width="0.9"/>
<line x1="179.00" y1="287.00" x2="179.00" y2="293.00" stroke="#808890" stroke-width="0.9"/>
<line x1="176.80" y1="287.00" x2="181.20" y2="287.00" stroke="#808890" stroke-width="0.9"/>
<line x1="176.80" y1="293.00" x2="181.20" y2="293.00" stroke="#808890" stroke-width="0.9"/>
<line x1="207.20" y1="273.30" x2="207.20" y2="283.30" stroke="#808890" stroke-width="0.9"/>
<line x1="205.00" y1="273.30" x2="209.40" y2="273.30" stroke="#808890" stroke-width="0.9"/>
<line x1="205.00" y1="283.30" x2="209.40" y2="283.30" stroke="#808890" stroke-width="0.9"/>
<line x1="226.00" y1="258.44" x2="226.00" y2="270.44" stroke="#808890" stroke-width="0.9"/>
<line x1="223.80" y1="258.44" x2="228.20" y2="258.44" stroke="#808890" stroke-width="0.9"/>
<line x1="223.80" y1="270.44" x2="228.20" y2="270.44" stroke="#808890" stroke-width="0.9"/>
<polyline points="38.00,310.70 75.60,309.44 94.40,307.46 113.20,308.36 141.40,305.48 160.20,297.74 179.00,290.00 207.20,278.30 226.00,264.44" fill="none" stroke="#ed7d31" stroke-width="1.6" stroke-linejoin="round"/>
<circle cx="38.00" cy="310.70" r="2.55" fill="#ed7d31"/>
<circle cx="75.60" cy="309.44" r="2.55" fill="#ed7d31"/>
<circle cx="94.40" cy="307.46" r="2.55" fill="#ed7d31"/>
<circle cx="113.20" cy="308.36" r="2.55" fill="#ed7d31"/>
<circle cx="141.40" cy="305.48" r="2.55" fill="#ed7d31"/>
<circle cx="160.20" cy="297.74" r="2.55" fill="#ed7d31"/>
<circle cx="179.00" cy="290.00" r="2.55" fill="#ed7d31"/>
<circle cx="207.20" cy="278.30" r="2.55" fill="#ed7d31"/>
<circle cx="226.00" cy="264.44" r="2.55" fill="#ed7d31"/>
<polyline points="233.20,251.00 236.20,251.00 236.20,266.80 233.20,266.80" fill="none" stroke="#707070" stroke-width="0.9"/>
<text x="238.40" y="261.60" font-size="7.5" fill="#303030" stroke="#303030" >n.s</text>
<line x1="315.50" y1="213.00" x2="315.50" y2="339.30" stroke="#d4d4d4" stroke-width="1"/>
<line x1="315.50" y1="339.30" x2="513.40" y2="339.30" stroke="#d4d4d4" stroke-width="1"/>
<line x1="312.50" y1="339.30" x2="315.50" y2="339.30" stroke="#d4d4d4" stroke-width="1"/>
<text x="309.50" y="341.90" font-size="9.6" fill="#555555" stroke="#555555" text-anchor="end" textLength="4.99" lengthAdjust="spacingAndGlyphs" >0</text>
<line x1="312.50" y1="321.25" x2="315.50" y2="321.25" stroke="#d4d4d4" stroke-width="1"/>
<text x="309.50" y="323.85" font-size="9.6" fill="#555555" stroke="#555555" text-anchor="end" textLength="14.97" lengthAdjust="spacingAndGlyphs" >100</text>
<line x1="312.50" y1="303.20" x2="315.50" y2="303.20" stroke="#d4d4d4" stroke-width="1"/>
<text x="309.50" y="305.80" font-size="9.6" fill="#555555" stroke="#555555" text-anchor="end" textLength="14.97" lengthAdjust="spacingAndGlyphs" >200</text>
<line x1="312.50" y1="285.15" x2="315.50" y2="285.15" stroke="#d4d4d4" stroke-width="1"/>
<text x="309.50" y="287.75" font-size="9.6" fill="#555555" stroke="#555555" text-anchor="end" textLength="14.97" lengthAdjust="spacingAndGlyphs" >300</text>
<line x1="312.50" y1="267.10" x2="315.50" y2="267.10" stroke="#d4d4d4" stroke-width="1"/>
<text x="309.50" y="269.70" font-size="9.6" fill="#555555" stroke="#555555" text-anchor="end" textLength="14.97" lengthAdjust="spacingAndGlyphs" >400</text>
<line x1="312.50" y1="249.05" x2="315.50" y2="249.05" stroke="#d4d4d4" stroke-width="1"/>
<text x="309.50" y="251.65" font-size="9.6" fill="#555555" stroke="#555555" text-anchor="end" textLength="14.97" lengthAdjust="spacingAndGlyphs" >500</text>
<line x1="312.50" y1="231.00" x2="315.50" y2="231.00" stroke="#d4d4d4" stroke-width="1"/>
<text x="309.50" y="233.60" font-size="9.6" fill="#555555" stroke="#555555" text-anchor="end" textLength="14.97" lengthAdjust="spacingAndGlyphs" >600</text>
<line x1="312.50" y1="212.95" x2="315.50" y2="212.95" stroke="#d4d4d4" stroke-width="1"/>
<text x="309.50" y="215.55" font-size="9.6" fill="#555555" stroke="#555555" text-anchor="end" textLength="14.97" lengthAdjust="spacingAndGlyphs" >700</text>
<line x1="315.50" y1="339.30" x2="315.50" y2="342.30" stroke="#d4d4d4" stroke-width="1"/>
<text x="315.50" y="352.90" font-size="9.6" fill="#555555" stroke="#555555" text-anchor="middle" textLength="4.99" lengthAdjust="spacingAndGlyphs" >0</text>
<line x1="340.25" y1="339.30" x2="340.25" y2="342.30" stroke="#d4d4d4" stroke-width="1"/>
<text x="340.25" y="352.90" font-size="9.6" fill="#555555" stroke="#555555" text-anchor="middle" textLength="4.99" lengthAdjust="spacingAndGlyphs" >3</text>
<line x1="365.00" y1="339.30" x2="365.00" y2="342.30" stroke="#d4d4d4" stroke-width="1"/>
<text x="365.00" y="352.90" font-size="9.6" fill="#555555" stroke="#555555" text-anchor="middle" textLength="4.99" lengthAdjust="spacingAndGlyphs" >6</text>
<line x1="389.75" y1="339.30" x2="389.75" y2="342.30" stroke="#d4d4d4" stroke-width="1"/>
<text x="389.75" y="352.90" font-size="9.6" fill="#555555" stroke="#555555" text-anchor="middle" textLength="4.99" lengthAdjust="spacingAndGlyphs" >9</text>
<line x1="414.50" y1="339.30" x2="414.50" y2="342.30" stroke="#d4d4d4" stroke-width="1"/>
<text x="414.50" y="352.90" font-size="9.6" fill="#555555" stroke="#555555" text-anchor="middle" textLength="9.98" lengthAdjust="spacingAndGlyphs" >12</text>
<line x1="439.25" y1="339.30" x2="439.25" y2="342.30" stroke="#d4d4d4" stroke-width="1"/>
<text x="439.25" y="352.90" font-size="9.6" fill="#555555" stroke="#555555" text-anchor="middle" textLength="9.98" lengthAdjust="spacingAndGlyphs" >15</text>
<line x1="464.00" y1="339.30" x2="464.00" y2="342.30" stroke="#d4d4d4" stroke-width="1"/>
<text x="464.00" y="352.90" font-size="9.6" fill="#555555" stroke="#555555" text-anchor="middle" textLength="9.98" lengthAdjust="spacingAndGlyphs" >18</text>
<line x1="488.75" y1="339.30" x2="488.75" y2="342.30" stroke="#d4d4d4" stroke-width="1"/>
<text x="488.75" y="352.90" font-size="9.6" fill="#555555" stroke="#555555" text-anchor="middle" textLength="9.98" lengthAdjust="spacingAndGlyphs" >21</text>
<line x1="513.50" y1="339.30" x2="513.50" y2="342.30" stroke="#d4d4d4" stroke-width="1"/>
<text x="513.50" y="352.90" font-size="9.6" fill="#555555" stroke="#555555" text-anchor="middle" textLength="9.98" lengthAdjust="spacingAndGlyphs" >24</text>
<text x="287.40" y="327.30" font-size="10.2" fill="#404040" stroke="#404040" textLength="100.5" lengthAdjust="spacingAndGlyphs" transform="rotate(-90 287.40 327.30)" >Tumor volume (mm<tspan font-size="6.6" dy="-3.6">3</tspan><tspan dy="3.6">)</tspan></text>
<text x="402.80" y="369.70" font-size="10.4" fill="#404040" stroke="#404040" textLength="24.1" lengthAdjust="spacingAndGlyphs" >Days</text>
<line x1="320.70" y1="214.60" x2="338.70" y2="214.60" stroke="#0a0a0a" stroke-width="1.6"/>
<circle cx="329.70" cy="214.60" r="2.3" fill="#0a0a0a"/>
<text x="338.84" y="218.00" font-size="10.6" fill="#404040" stroke="#404040" textLength="49.95" lengthAdjust="spacingAndGlyphs" >IgG control</text>
<line x1="320.70" y1="226.80" x2="338.70" y2="226.80" stroke="#ed7d31" stroke-width="1.6"/>
<circle cx="329.70" cy="226.80" r="2.3" fill="#ed7d31"/>
<text x="339.05" y="230.20" font-size="10.6" fill="#404040" stroke="#404040" textLength="68.15" lengthAdjust="spacingAndGlyphs" >CLDN6-23-mAb</text>
<line x1="315.50" y1="289.37" x2="315.50" y2="295.37" stroke="#c0c0c0" stroke-width="0.9"/>
<line x1="313.30" y1="289.37" x2="317.70" y2="289.37" stroke="#c0c0c0" stroke-width="0.9"/>
<line x1="313.30" y1="295.37" x2="317.70" y2="295.37" stroke="#c0c0c0" stroke-width="0.9"/>
<line x1="356.75" y1="276.00" x2="356.75" y2="286.00" stroke="#c0c0c0" stroke-width="0.9"/>
<line x1="354.55" y1="276.00" x2="358.95" y2="276.00" stroke="#c0c0c0" stroke-width="0.9"/>
<line x1="354.55" y1="286.00" x2="358.95" y2="286.00" stroke="#c0c0c0" stroke-width="0.9"/>
<line x1="381.50" y1="267.33" x2="381.50" y2="277.33" stroke="#c0c0c0" stroke-width="0.9"/>
<line x1="379.30" y1="267.33" x2="383.70" y2="267.33" stroke="#c0c0c0" stroke-width="0.9"/>
<line x1="379.30" y1="277.33" x2="383.70" y2="277.33" stroke="#c0c0c0" stroke-width="0.9"/>
<line x1="414.50" y1="258.35" x2="414.50" y2="269.35" stroke="#c0c0c0" stroke-width="0.9"/>
<line x1="412.30" y1="258.35" x2="416.70" y2="258.35" stroke="#c0c0c0" stroke-width="0.9"/>
<line x1="412.30" y1="269.35" x2="416.70" y2="269.35" stroke="#c0c0c0" stroke-width="0.9"/>
<line x1="431.00" y1="253.44" x2="431.00" y2="267.04" stroke="#c0c0c0" stroke-width="0.9"/>
<line x1="428.80" y1="253.44" x2="433.20" y2="253.44" stroke="#c0c0c0" stroke-width="0.9"/>
<line x1="428.80" y1="267.04" x2="433.20" y2="267.04" stroke="#c0c0c0" stroke-width="0.9"/>
<line x1="464.00" y1="242.53" x2="464.00" y2="257.73" stroke="#c0c0c0" stroke-width="0.9"/>
<line x1="461.80" y1="242.53" x2="466.20" y2="242.53" stroke="#c0c0c0" stroke-width="0.9"/>
<line x1="461.80" y1="257.73" x2="466.20" y2="257.73" stroke="#c0c0c0" stroke-width="0.9"/>
<line x1="497.00" y1="231.02" x2="497.00" y2="241.82" stroke="#c0c0c0" stroke-width="0.9"/>
<line x1="494.80" y1="231.02" x2="499.20" y2="231.02" stroke="#c0c0c0" stroke-width="0.9"/>
<line x1="494.80" y1="241.82" x2="499.20" y2="241.82" stroke="#c0c0c0" stroke-width="0.9"/>
<polyline points="315.50,292.37 356.75,281.00 381.50,272.33 414.50,263.85 431.00,260.24 464.00,250.13 497.00,236.42" fill="none" stroke="#0a0a0a" stroke-width="1.6" stroke-linejoin="round"/>
<circle cx="315.50" cy="292.37" r="2.55" fill="#0a0a0a"/>
<circle cx="356.75" cy="281.00" r="2.55" fill="#0a0a0a"/>
<circle cx="381.50" cy="272.33" r="2.55" fill="#0a0a0a"/>
<circle cx="414.50" cy="263.85" r="2.55" fill="#0a0a0a"/>
<circle cx="431.00" cy="260.24" r="2.55" fill="#0a0a0a"/>
<circle cx="464.00" cy="250.13" r="2.55" fill="#0a0a0a"/>
<circle cx="497.00" cy="236.42" r="2.55" fill="#0a0a0a"/>
<line x1="315.50" y1="286.84" x2="315.50" y2="292.84" stroke="#808890" stroke-width="0.9"/>
<line x1="313.30" y1="286.84" x2="317.70" y2="286.84" stroke="#808890" stroke-width="0.9"/>
<line x1="313.30" y1="292.84" x2="317.70" y2="292.84" stroke="#808890" stroke-width="0.9"/>
<line x1="356.75" y1="274.92" x2="356.75" y2="284.92" stroke="#808890" stroke-width="0.9"/>
<line x1="354.55" y1="274.92" x2="358.95" y2="274.92" stroke="#808890" stroke-width="0.9"/>
<line x1="354.55" y1="284.92" x2="358.95" y2="284.92" stroke="#808890" stroke-width="0.9"/>
<line x1="381.50" y1="265.53" x2="381.50" y2="275.53" stroke="#808890" stroke-width="0.9"/>
<line x1="379.30" y1="265.53" x2="383.70" y2="265.53" stroke="#808890" stroke-width="0.9"/>
<line x1="379.30" y1="275.53" x2="383.70" y2="275.53" stroke="#808890" stroke-width="0.9"/>
<line x1="414.50" y1="258.35" x2="414.50" y2="269.35" stroke="#808890" stroke-width="0.9"/>
<line x1="412.30" y1="258.35" x2="416.70" y2="258.35" stroke="#808890" stroke-width="0.9"/>
<line x1="412.30" y1="269.35" x2="416.70" y2="269.35" stroke="#808890" stroke-width="0.9"/>
<line x1="431.00" y1="254.16" x2="431.00" y2="267.76" stroke="#808890" stroke-width="0.9"/>
<line x1="428.80" y1="254.16" x2="433.20" y2="254.16" stroke="#808890" stroke-width="0.9"/>
<line x1="428.80" y1="267.76" x2="433.20" y2="267.76" stroke="#808890" stroke-width="0.9"/>
<line x1="464.00" y1="245.42" x2="464.00" y2="260.62" stroke="#808890" stroke-width="0.9"/>
<line x1="461.80" y1="245.42" x2="466.20" y2="245.42" stroke="#808890" stroke-width="0.9"/>
<line x1="461.80" y1="260.62" x2="466.20" y2="260.62" stroke="#808890" stroke-width="0.9"/>
<line x1="497.00" y1="225.12" x2="497.00" y2="247.72" stroke="#808890" stroke-width="0.9"/>
<line x1="494.80" y1="225.12" x2="499.20" y2="225.12" stroke="#808890" stroke-width="0.9"/>
<line x1="494.80" y1="247.72" x2="499.20" y2="247.72" stroke="#808890" stroke-width="0.9"/>
<polyline points="315.50,289.84 356.75,279.92 381.50,270.53 414.50,263.85 431.00,260.96 464.00,253.02 497.00,236.42" fill="none" stroke="#ed7d31" stroke-width="1.6" stroke-linejoin="round"/>
<circle cx="315.50" cy="289.84" r="2.55" fill="#ed7d31"/>
<circle cx="356.75" cy="279.92" r="2.55" fill="#ed7d31"/>
<circle cx="381.50" cy="270.53" r="2.55" fill="#ed7d31"/>
<circle cx="414.50" cy="263.85" r="2.55" fill="#ed7d31"/>
<circle cx="431.00" cy="260.96" r="2.55" fill="#ed7d31"/>
<circle cx="464.00" cy="253.02" r="2.55" fill="#ed7d31"/>
<circle cx="497.00" cy="236.42" r="2.55" fill="#ed7d31"/>
<polyline points="502.40,232.50 505.40,232.50 505.40,240.80 502.40,240.80" fill="none" stroke="#707070" stroke-width="0.9"/>
<text x="508.10" y="239.60" font-size="7.5" fill="#303030" stroke="#303030" >n.s</text>
<line x1="317.30" y1="396.80" x2="317.30" y2="523.20" stroke="#d4d4d4" stroke-width="1"/>
<line x1="317.30" y1="523.20" x2="507.30" y2="523.20" stroke="#d4d4d4" stroke-width="1"/>
<line x1="314.30" y1="523.20" x2="317.30" y2="523.20" stroke="#d4d4d4" stroke-width="1"/>
<text x="311.30" y="525.80" font-size="9.6" fill="#555555" stroke="#555555" text-anchor="end" textLength="4.99" lengthAdjust="spacingAndGlyphs" >0</text>
<line x1="314.30" y1="507.40" x2="317.30" y2="507.40" stroke="#d4d4d4" stroke-width="1"/>
<text x="311.30" y="510.00" font-size="9.6" fill="#555555" stroke="#555555" text-anchor="end" textLength="14.97" lengthAdjust="spacingAndGlyphs" >200</text>
<line x1="314.30" y1="491.60" x2="317.30" y2="491.60" stroke="#d4d4d4" stroke-width="1"/>
<text x="311.30" y="494.20" font-size="9.6" fill="#555555" stroke="#555555" text-anchor="end" textLength="14.97" lengthAdjust="spacingAndGlyphs" >400</text>
<line x1="314.30" y1="475.80" x2="317.30" y2="475.80" stroke="#d4d4d4" stroke-width="1"/>
<text x="311.30" y="478.40" font-size="9.6" fill="#555555" stroke="#555555" text-anchor="end" textLength="14.97" lengthAdjust="spacingAndGlyphs" >600</text>
<line x1="314.30" y1="460.00" x2="317.30" y2="460.00" stroke="#d4d4d4" stroke-width="1"/>
<text x="311.30" y="462.60" font-size="9.6" fill="#555555" stroke="#555555" text-anchor="end" textLength="14.97" lengthAdjust="spacingAndGlyphs" >800</text>
<line x1="314.30" y1="444.20" x2="317.30" y2="444.20" stroke="#d4d4d4" stroke-width="1"/>
<text x="311.30" y="446.80" font-size="9.6" fill="#555555" stroke="#555555" text-anchor="end" textLength="22.46" lengthAdjust="spacingAndGlyphs" >1,000</text>
<line x1="314.30" y1="428.40" x2="317.30" y2="428.40" stroke="#d4d4d4" stroke-width="1"/>
<text x="311.30" y="431.00" font-size="9.6" fill="#555555" stroke="#555555" text-anchor="end" textLength="22.46" lengthAdjust="spacingAndGlyphs" >1,200</text>
<line x1="314.30" y1="412.60" x2="317.30" y2="412.60" stroke="#d4d4d4" stroke-width="1"/>
<text x="311.30" y="415.20" font-size="9.6" fill="#555555" stroke="#555555" text-anchor="end" textLength="22.46" lengthAdjust="spacingAndGlyphs" >1,400</text>
<line x1="314.30" y1="396.80" x2="317.30" y2="396.80" stroke="#d4d4d4" stroke-width="1"/>
<text x="311.30" y="399.40" font-size="9.6" fill="#555555" stroke="#555555" text-anchor="end" textLength="22.46" lengthAdjust="spacingAndGlyphs" >1,600</text>
<line x1="317.30" y1="523.20" x2="317.30" y2="526.20" stroke="#d4d4d4" stroke-width="1"/>
<text x="317.30" y="536.80" font-size="9.6" fill="#555555" stroke="#555555" text-anchor="middle" textLength="4.99" lengthAdjust="spacingAndGlyphs" >0</text>
<line x1="364.80" y1="523.20" x2="364.80" y2="526.20" stroke="#d4d4d4" stroke-width="1"/>
<text x="364.80" y="536.80" font-size="9.6" fill="#555555" stroke="#555555" text-anchor="middle" textLength="4.99" lengthAdjust="spacingAndGlyphs" >5</text>
<line x1="412.30" y1="523.20" x2="412.30" y2="526.20" stroke="#d4d4d4" stroke-width="1"/>
<text x="412.30" y="536.80" font-size="9.6" fill="#555555" stroke="#555555" text-anchor="middle" textLength="9.98" lengthAdjust="spacingAndGlyphs" >10</text>
<line x1="459.80" y1="523.20" x2="459.80" y2="526.20" stroke="#d4d4d4" stroke-width="1"/>
<text x="459.80" y="536.80" font-size="9.6" fill="#555555" stroke="#555555" text-anchor="middle" textLength="9.98" lengthAdjust="spacingAndGlyphs" >15</text>
<line x1="507.30" y1="523.20" x2="507.30" y2="526.20" stroke="#d4d4d4" stroke-width="1"/>
<text x="507.30" y="536.80" font-size="9.6" fill="#555555" stroke="#555555" text-anchor="middle" textLength="9.98" lengthAdjust="spacingAndGlyphs" >20</text>
<text x="282.10" y="508.00" font-size="10.2" fill="#404040" stroke="#404040" textLength="100.2" lengthAdjust="spacingAndGlyphs" transform="rotate(-90 282.10 508.00)" >Tumor volume (mm<tspan font-size="6.6" dy="-3.6">3</tspan><tspan dy="3.6">)</tspan></text>
<text x="402.80" y="554.20" font-size="10.4" fill="#404040" stroke="#404040" textLength="24.2" lengthAdjust="spacingAndGlyphs" >Days</text>
<line x1="325.30" y1="401.30" x2="343.30" y2="401.30" stroke="#0a0a0a" stroke-width="1.6"/>
<circle cx="334.30" cy="401.30" r="2.3" fill="#0a0a0a"/>
<text x="344.84" y="404.70" font-size="10.6" fill="#404040" stroke="#404040" textLength="49.2" lengthAdjust="spacingAndGlyphs" >IgG control</text>
<line x1="325.30" y1="413.50" x2="343.30" y2="413.50" stroke="#ed7d31" stroke-width="1.6"/>
<circle cx="334.30" cy="413.50" r="2.3" fill="#ed7d31"/>
<text x="344.31" y="416.90" font-size="10.6" fill="#404040" stroke="#404040" textLength="68.13" lengthAdjust="spacingAndGlyphs" >CLDN6-23-mAb</text>
<line x1="355.30" y1="499.16" x2="355.30" y2="503.16" stroke="#c0c0c0" stroke-width="0.9"/>
<line x1="353.10" y1="499.16" x2="357.50" y2="499.16" stroke="#c0c0c0" stroke-width="0.9"/>
<line x1="353.10" y1="503.16" x2="357.50" y2="503.16" stroke="#c0c0c0" stroke-width="0.9"/>
<line x1="374.30" y1="494.89" x2="374.30" y2="498.89" stroke="#c0c0c0" stroke-width="0.9"/>
<line x1="372.10" y1="494.89" x2="376.50" y2="494.89" stroke="#c0c0c0" stroke-width="0.9"/>
<line x1="372.10" y1="498.89" x2="376.50" y2="498.89" stroke="#c0c0c0" stroke-width="0.9"/>
<line x1="393.30" y1="485.20" x2="393.30" y2="491.20" stroke="#c0c0c0" stroke-width="0.9"/>
<line x1="391.10" y1="485.20" x2="395.50" y2="485.20" stroke="#c0c0c0" stroke-width="0.9"/>
<line x1="391.10" y1="491.20" x2="395.50" y2="491.20" stroke="#c0c0c0" stroke-width="0.9"/>
<line x1="421.80" y1="464.95" x2="421.80" y2="474.95" stroke="#c0c0c0" stroke-width="0.9"/>
<line x1="419.60" y1="464.95" x2="424.00" y2="464.95" stroke="#c0c0c0" stroke-width="0.9"/>
<line x1="419.60" y1="474.95" x2="424.00" y2="474.95" stroke="#c0c0c0" stroke-width="0.9"/>
<line x1="450.30" y1="447.79" x2="450.30" y2="466.99" stroke="#c0c0c0" stroke-width="0.9"/>
<line x1="448.10" y1="447.79" x2="452.50" y2="447.79" stroke="#c0c0c0" stroke-width="0.9"/>
<line x1="448.10" y1="466.99" x2="452.50" y2="466.99" stroke="#c0c0c0" stroke-width="0.9"/>
<line x1="488.30" y1="415.43" x2="488.30" y2="449.43" stroke="#c0c0c0" stroke-width="0.9"/>
<line x1="486.10" y1="415.43" x2="490.50" y2="415.43" stroke="#c0c0c0" stroke-width="0.9"/>
<line x1="486.10" y1="449.43" x2="490.50" y2="449.43" stroke="#c0c0c0" stroke-width="0.9"/>
<polyline points="317.30,507.40 355.30,501.16 374.30,496.89 393.30,488.20 421.80,469.95 450.30,457.39 488.30,432.43" fill="none" stroke="#0a0a0a" stroke-width="1.6" stroke-linejoin="round"/>
<circle cx="317.30" cy="507.40" r="2.55" fill="#0a0a0a"/>
<circle cx="355.30" cy="501.16" r="2.55" fill="#0a0a0a"/>
<circle cx="374.30" cy="496.89" r="2.55" fill="#0a0a0a"/>
<circle cx="393.30" cy="488.20" r="2.55" fill="#0a0a0a"/>
<circle cx="421.80" cy="469.95" r="2.55" fill="#0a0a0a"/>
<circle cx="450.30" cy="457.39" r="2.55" fill="#0a0a0a"/>
<circle cx="488.30" cy="432.43" r="2.55" fill="#0a0a0a"/>
<line x1="355.30" y1="505.19" x2="355.30" y2="508.19" stroke="#808890" stroke-width="0.9"/>
<line x1="353.10" y1="505.19" x2="357.50" y2="505.19" stroke="#808890" stroke-width="0.9"/>
<line x1="353.10" y1="508.19" x2="357.50" y2="508.19" stroke="#808890" stroke-width="0.9"/>
<line x1="374.30" y1="502.48" x2="374.30" y2="506.48" stroke="#808890" stroke-width="0.9"/>
<line x1="372.10" y1="502.48" x2="376.50" y2="502.48" stroke="#808890" stroke-width="0.9"/>
<line x1="372.10" y1="506.48" x2="376.50" y2="506.48" stroke="#808890" stroke-width="0.9"/>
<line x1="393.30" y1="501.21" x2="393.30" y2="505.21" stroke="#808890" stroke-width="0.9"/>
<line x1="391.10" y1="501.21" x2="395.50" y2="501.21" stroke="#808890" stroke-width="0.9"/>
<line x1="391.10" y1="505.21" x2="395.50" y2="505.21" stroke="#808890" stroke-width="0.9"/>
<line x1="421.80" y1="489.97" x2="421.80" y2="497.97" stroke="#808890" stroke-width="0.9"/>
<line x1="419.60" y1="489.97" x2="424.00" y2="489.97" stroke="#808890" stroke-width="0.9"/>
<line x1="419.60" y1="497.97" x2="424.00" y2="497.97" stroke="#808890" stroke-width="0.9"/>
<line x1="450.30" y1="479.53" x2="450.30" y2="492.93" stroke="#808890" stroke-width="0.9"/>
<line x1="448.10" y1="479.53" x2="452.50" y2="479.53" stroke="#808890" stroke-width="0.9"/>
<line x1="448.10" y1="492.93" x2="452.50" y2="492.93" stroke="#808890" stroke-width="0.9"/>
<line x1="488.30" y1="449.57" x2="488.30" y2="472.17" stroke="#808890" stroke-width="0.9"/>
<line x1="486.10" y1="449.57" x2="490.50" y2="449.57" stroke="#808890" stroke-width="0.9"/>
<line x1="486.10" y1="472.17" x2="490.50" y2="472.17" stroke="#808890" stroke-width="0.9"/>
<polyline points="317.30,507.40 355.30,506.69 374.30,504.48 393.30,503.21 421.80,493.97 450.30,486.23 488.30,460.87" fill="none" stroke="#ed7d31" stroke-width="1.6" stroke-linejoin="round"/>
<circle cx="317.30" cy="507.40" r="2.55" fill="#ed7d31"/>
<circle cx="355.30" cy="506.69" r="2.55" fill="#ed7d31"/>
<circle cx="374.30" cy="504.48" r="2.55" fill="#ed7d31"/>
<circle cx="393.30" cy="503.21" r="2.55" fill="#ed7d31"/>
<circle cx="421.80" cy="493.97" r="2.55" fill="#ed7d31"/>
<circle cx="450.30" cy="486.23" r="2.55" fill="#ed7d31"/>
<circle cx="488.30" cy="460.87" r="2.55" fill="#ed7d31"/>
<polyline points="494.70,432.50 497.70,432.50 497.70,460.60 494.70,460.60" fill="none" stroke="#707070" stroke-width="0.9"/>
<text x="498.90" y="448.60" font-size="7.5" fill="#303030" stroke="#303030" >n.s</text>
<line x1="60.40" y1="387.00" x2="60.40" y2="521.30" stroke="#404040" stroke-width="1"/>
<line x1="60.40" y1="521.30" x2="228.00" y2="521.30" stroke="#404040" stroke-width="1"/>
<line x1="57.40" y1="521.30" x2="60.40" y2="521.30" stroke="#404040" stroke-width="1"/>
<text x="54.40" y="524.50" font-size="9.6" fill="#555555" stroke="#555555" text-anchor="end" textLength="4.99" lengthAdjust="spacingAndGlyphs" >0</text>
<line x1="57.40" y1="498.93" x2="60.40" y2="498.93" stroke="#404040" stroke-width="1"/>
<text x="54.40" y="502.13" font-size="9.6" fill="#555555" stroke="#555555" text-anchor="end" textLength="27.45" lengthAdjust="spacingAndGlyphs" >50,000</text>
<line x1="57.40" y1="476.57" x2="60.40" y2="476.57" stroke="#404040" stroke-width="1"/>
<text x="54.40" y="479.77" font-size="9.6" fill="#555555" stroke="#555555" text-anchor="end" textLength="32.44" lengthAdjust="spacingAndGlyphs" >100,000</text>
<line x1="57.40" y1="454.20" x2="60.40" y2="454.20" stroke="#404040" stroke-width="1"/>
<text x="54.40" y="457.40" font-size="9.6" fill="#555555" stroke="#555555" text-anchor="end" textLength="32.44" lengthAdjust="spacingAndGlyphs" >150,000</text>
<line x1="57.40" y1="431.83" x2="60.40" y2="431.83" stroke="#404040" stroke-width="1"/>
<text x="54.40" y="435.03" font-size="9.6" fill="#555555" stroke="#555555" text-anchor="end" textLength="32.44" lengthAdjust="spacingAndGlyphs" >200,000</text>
<line x1="57.40" y1="409.47" x2="60.40" y2="409.47" stroke="#404040" stroke-width="1"/>
<text x="54.40" y="412.67" font-size="9.6" fill="#555555" stroke="#555555" text-anchor="end" textLength="32.44" lengthAdjust="spacingAndGlyphs" >250,000</text>
<line x1="57.40" y1="387.10" x2="60.40" y2="387.10" stroke="#404040" stroke-width="1"/>
<text x="54.40" y="390.30" font-size="9.6" fill="#555555" stroke="#555555" text-anchor="end" textLength="32.44" lengthAdjust="spacingAndGlyphs" >300,000</text>
<line x1="60.40" y1="521.30" x2="60.40" y2="524.80" stroke="#404040" stroke-width="1"/>
<text x="60.40" y="537.30" font-size="9.6" fill="#555555" stroke="#555555" text-anchor="middle" textLength="17.47" lengthAdjust="spacingAndGlyphs" >0.01</text>
<line x1="73.01" y1="521.30" x2="73.01" y2="523.50" stroke="#404040" stroke-width="0.9"/>
<line x1="80.39" y1="521.30" x2="80.39" y2="523.50" stroke="#404040" stroke-width="0.9"/>
<line x1="85.63" y1="521.30" x2="85.63" y2="523.50" stroke="#404040" stroke-width="0.9"/>
<line x1="89.69" y1="521.30" x2="89.69" y2="523.50" stroke="#404040" stroke-width="0.9"/>
<line x1="93.00" y1="521.30" x2="93.00" y2="523.50" stroke="#404040" stroke-width="0.9"/>
<line x1="95.81" y1="521.30" x2="95.81" y2="523.50" stroke="#404040" stroke-width="0.9"/>
<line x1="98.24" y1="521.30" x2="98.24" y2="523.50" stroke="#404040" stroke-width="0.9"/>
<line x1="100.38" y1="521.30" x2="100.38" y2="523.50" stroke="#404040" stroke-width="0.9"/>
<line x1="102.30" y1="521.30" x2="102.30" y2="524.80" stroke="#404040" stroke-width="1"/>
<text x="102.30" y="537.30" font-size="9.6" fill="#555555" stroke="#555555" text-anchor="middle" textLength="12.48" lengthAdjust="spacingAndGlyphs" >0.1</text>
<line x1="114.91" y1="521.30" x2="114.91" y2="523.50" stroke="#404040" stroke-width="0.9"/>
<line x1="122.29" y1="521.30" x2="122.29" y2="523.50" stroke="#404040" stroke-width="0.9"/>
<line x1="127.53" y1="521.30" x2="127.53" y2="523.50" stroke="#404040" stroke-width="0.9"/>
<line x1="131.59" y1="521.30" x2="131.59" y2="523.50" stroke="#404040" stroke-width="0.9"/>
<line x1="134.90" y1="521.30" x2="134.90" y2="523.50" stroke="#404040" stroke-width="0.9"/>
<line x1="137.71" y1="521.30" x2="137.71" y2="523.50" stroke="#404040" stroke-width="0.9"/>
<line x1="140.14" y1="521.30" x2="140.14" y2="523.50" stroke="#404040" stroke-width="0.9"/>
<line x1="142.28" y1="521.30" x2="142.28" y2="523.50" stroke="#404040" stroke-width="0.9"/>
<line x1="144.20" y1="521.30" x2="144.20" y2="524.80" stroke="#404040" stroke-width="1"/>
<text x="144.20" y="537.30" font-size="9.6" fill="#555555" stroke="#555555" text-anchor="middle" textLength="4.99" lengthAdjust="spacingAndGlyphs" >1</text>
<line x1="156.81" y1="521.30" x2="156.81" y2="523.50" stroke="#404040" stroke-width="0.9"/>
<line x1="164.19" y1="521.30" x2="164.19" y2="523.50" stroke="#404040" stroke-width="0.9"/>
<line x1="169.43" y1="521.30" x2="169.43" y2="523.50" stroke="#404040" stroke-width="0.9"/>
<line x1="173.49" y1="521.30" x2="173.49" y2="523.50" stroke="#404040" stroke-width="0.9"/>
<line x1="176.80" y1="521.30" x2="176.80" y2="523.50" stroke="#404040" stroke-width="0.9"/>
<line x1="179.61" y1="521.30" x2="179.61" y2="523.50" stroke="#404040" stroke-width="0.9"/>
<line x1="182.04" y1="521.30" x2="182.04" y2="523.50" stroke="#404040" stroke-width="0.9"/>
<line x1="184.18" y1="521.30" x2="184.18" y2="523.50" stroke="#404040" stroke-width="0.9"/>
<line x1="186.10" y1="521.30" x2="186.10" y2="524.80" stroke="#404040" stroke-width="1"/>
<text x="186.10" y="537.30" font-size="9.6" fill="#555555" stroke="#555555" text-anchor="middle" textLength="9.98" lengthAdjust="spacingAndGlyphs" >10</text>
<line x1="198.71" y1="521.30" x2="198.71" y2="523.50" stroke="#404040" stroke-width="0.9"/>
<line x1="206.09" y1="521.30" x2="206.09" y2="523.50" stroke="#404040" stroke-width="0.9"/>
<line x1="211.33" y1="521.30" x2="211.33" y2="523.50" stroke="#404040" stroke-width="0.9"/>
<line x1="215.39" y1="521.30" x2="215.39" y2="523.50" stroke="#404040" stroke-width="0.9"/>
<line x1="218.70" y1="521.30" x2="218.70" y2="523.50" stroke="#404040" stroke-width="0.9"/>
<line x1="221.51" y1="521.30" x2="221.51" y2="523.50" stroke="#404040" stroke-width="0.9"/>
<line x1="223.94" y1="521.30" x2="223.94" y2="523.50" stroke="#404040" stroke-width="0.9"/>
<line x1="226.08" y1="521.30" x2="226.08" y2="523.50" stroke="#404040" stroke-width="0.9"/>
<line x1="228.00" y1="521.30" x2="228.00" y2="524.80" stroke="#404040" stroke-width="1"/>
<text x="228.00" y="537.30" font-size="9.6" fill="#555555" stroke="#555555" text-anchor="middle" textLength="14.97" lengthAdjust="spacingAndGlyphs" >100</text>
<text x="12.80" y="505.30" font-size="10.2" fill="#404040" stroke="#404040" textLength="101.3" lengthAdjust="spacingAndGlyphs" transform="rotate(-90 12.80 505.30)" >Luminescence (RLU)</text>
<text x="65.80" y="552.00" font-size="10.5" fill="#404040" stroke="#404040" textLength="154" lengthAdjust="spacingAndGlyphs" >Antibody&#160;&#160;concentration (nmol/L)</text>
<line x1="63.40" y1="387.40" x2="80.90" y2="387.40" stroke="#2b3f97" stroke-width="1.5"/>
<circle cx="72.20" cy="387.40" r="2.2" fill="#2b3f97"/>
<text x="82.37" y="390.40" font-size="9.6" fill="#404040" stroke="#404040" textLength="112.86" lengthAdjust="spacingAndGlyphs" >ARK2 Cells + CLDN6-23-mAb</text>
<line x1="63.40" y1="399.20" x2="80.90" y2="399.20" stroke="#e0302a" stroke-width="1.5"/>
<circle cx="72.20" cy="399.20" r="2.2" fill="#e0302a"/>
<text x="82.44" y="402.20" font-size="9.6" fill="#404040" stroke="#404040" textLength="70.26" lengthAdjust="spacingAndGlyphs" >ARK2 Cells + IgG1</text>
<line x1="63.40" y1="411.10" x2="80.90" y2="411.10" stroke="#6cbe45" stroke-width="1.5"/>
<circle cx="72.20" cy="411.10" r="2.2" fill="#6cbe45"/>
<text x="82.37" y="414.10" font-size="9.6" fill="#404040" stroke="#404040" textLength="115.56" lengthAdjust="spacingAndGlyphs" >M202 Cells + CLDN6-23-mAb</text>
<line x1="201.34" y1="407.60" x2="201.34" y2="428.40" stroke="#2b3f97" stroke-width="0.9"/>
<line x1="199.14" y1="407.60" x2="203.54" y2="407.60" stroke="#2b3f97" stroke-width="0.9"/>
<line x1="199.14" y1="428.40" x2="203.54" y2="428.40" stroke="#2b3f97" stroke-width="0.9"/>
<line x1="221.46" y1="403.90" x2="221.46" y2="415.10" stroke="#2b3f97" stroke-width="0.9"/>
<line x1="219.26" y1="403.90" x2="223.66" y2="403.90" stroke="#2b3f97" stroke-width="0.9"/>
<line x1="219.26" y1="415.10" x2="223.66" y2="415.10" stroke="#2b3f97" stroke-width="0.9"/>
<polyline points="60.50,520.37 61.66,520.34 62.82,520.30 63.97,520.25 65.13,520.21 66.29,520.16 67.45,520.11 68.61,520.06 69.76,520.00 70.92,519.94 72.08,519.87 73.24,519.80 74.40,519.73 75.55,519.66 76.71,519.57 77.87,519.49 79.03,519.40 80.19,519.30 81.34,519.20 82.50,519.09 83.66,518.97 84.82,518.85 85.98,518.72 87.13,518.59 88.29,518.44 89.45,518.29 90.61,518.13 91.77,517.96 92.92,517.78 94.08,517.58 95.24,517.38 96.40,517.17 97.56,516.94 98.71,516.70 99.87,516.45 101.03,516.18 102.19,515.90 103.35,515.60 104.50,515.29 105.66,514.96 106.82,514.61 107.98,514.24 109.14,513.85 110.29,513.44 111.45,513.01 112.61,512.56 113.77,512.08 114.93,511.58 116.08,511.05 117.24,510.50 118.40,509.91 119.56,509.30 120.72,508.66 121.87,507.99 123.03,507.29 124.19,506.55 125.35,505.78 126.51,504.98 127.66,504.14 128.82,503.26 129.98,502.35 131.14,501.40 132.30,500.41 133.45,499.38 134.61,498.31 135.77,497.21 136.93,496.06 138.09,494.87 139.24,493.65 140.40,492.38 141.56,491.08 142.72,489.73 143.87,488.35 145.03,486.93 146.19,485.48 147.35,483.99 148.51,482.47 149.66,480.92 150.82,479.33 151.98,477.72 153.14,476.09 154.30,474.43 155.45,472.75 156.61,471.05 157.77,469.34 158.93,467.61 160.09,465.88 161.24,464.14 162.40,462.40 163.56,460.65 164.72,458.91 165.88,457.18 167.03,455.45 168.19,453.73 169.35,452.03 170.51,450.35 171.67,448.69 172.82,447.05 173.98,445.44 175.14,443.85 176.30,442.29 177.46,440.76 178.61,439.27 179.77,437.81 180.93,436.38 182.09,435.00 183.25,433.65 184.40,432.33 185.56,431.06 186.72,429.83 187.88,428.64 189.04,427.48 190.19,426.37 191.35,425.29 192.51,424.26 193.67,423.26 194.83,422.31 195.98,421.39 197.14,420.51 198.30,419.66 199.46,418.85 200.62,418.08 201.77,417.33 202.93,416.63 204.09,415.95 205.25,415.30 206.41,414.69 207.56,414.10 208.72,413.54 209.88,413.01 211.04,412.50 212.20,412.02 213.35,411.56 214.51,411.13 215.67,410.72 216.83,410.32 217.99,409.95 219.14,409.60 220.30,409.27 221.46,408.95" fill="none" stroke="#2b3f97" stroke-width="1.7"/>
<rect x="98.84" y="514.30" width="3.8" height="3.8" fill="#2b3f97"/>
<rect x="118.96" y="506.80" width="3.8" height="3.8" fill="#2b3f97"/>
<rect x="139.08" y="489.40" width="3.8" height="3.8" fill="#2b3f97"/>
<rect x="159.20" y="463.30" width="3.8" height="3.8" fill="#2b3f97"/>
<rect x="179.32" y="433.30" width="3.8" height="3.8" fill="#2b3f97"/>
<rect x="199.44" y="415.90" width="3.8" height="3.8" fill="#2b3f97"/>
<rect x="219.56" y="407.50" width="3.8" height="3.8" fill="#2b3f97"/>
<polyline points="60.50,518.80 80.62,518.80 100.74,518.60 120.86,518.40 140.98,518.20 161.10,517.80 181.22,517.00 201.34,516.60 221.46,517.20" fill="none" stroke="#e0302a" stroke-width="1.4" stroke-linejoin="round"/>
<circle cx="60.50" cy="518.80" r="2.2" fill="#e0302a"/>
<circle cx="80.62" cy="518.80" r="2.2" fill="#e0302a"/>
<circle cx="100.74" cy="518.60" r="2.2" fill="#e0302a"/>
<circle cx="120.86" cy="518.40" r="2.2" fill="#e0302a"/>
<circle cx="140.98" cy="518.20" r="2.2" fill="#e0302a"/>
<circle cx="161.10" cy="517.80" r="2.2" fill="#e0302a"/>
<circle cx="181.22" cy="517.00" r="2.2" fill="#e0302a"/>
<circle cx="201.34" cy="516.60" r="2.2" fill="#e0302a"/>
<circle cx="221.46" cy="517.20" r="2.2" fill="#e0302a"/>
<polyline points="60.50,517.60 80.62,517.60 100.74,517.60 120.86,517.60 140.98,517.60 161.10,517.60 181.22,517.60 201.34,517.60 221.46,517.60" fill="none" stroke="#6cbe45" stroke-width="1.5" stroke-linejoin="round"/>
<circle cx="60.50" cy="517.60" r="2.6" fill="#6cbe45"/>
<circle cx="80.62" cy="517.60" r="2.6" fill="#6cbe45"/>
<circle cx="100.74" cy="517.60" r="2.6" fill="#6cbe45"/>
<circle cx="120.86" cy="517.60" r="2.6" fill="#6cbe45"/>
<circle cx="140.98" cy="517.60" r="2.6" fill="#6cbe45"/>
<circle cx="161.10" cy="517.60" r="2.6" fill="#6cbe45"/>
<circle cx="181.22" cy="517.60" r="2.6" fill="#6cbe45"/>
<circle cx="201.34" cy="517.60" r="2.6" fill="#6cbe45"/>
<circle cx="221.46" cy="517.60" r="2.6" fill="#6cbe45"/>
<text x="68.75" y="576.80" font-size="12" fill="#1a1a1a" stroke="#1a1a1a" textLength="36.25" lengthAdjust="spacingAndGlyphs" >Time 0</text>
<text x="192.00" y="576.80" font-size="12" fill="#1a1a1a" stroke="#1a1a1a" textLength="21.75" lengthAdjust="spacingAndGlyphs" >3 hr</text>
<text x="27.90" y="614.60" font-size="11" fill="#303030" stroke="#303030" text-anchor="middle" textLength="28.2" lengthAdjust="spacingAndGlyphs" transform="rotate(-90 27.90 614.60)" >ARK2</text>
<defs>
<filter id="b3" x="-30%" y="-30%" width="160%" height="160%"><feGaussianBlur stdDeviation="3.5"/></filter>
<filter id="b2" x="-30%" y="-30%" width="160%" height="160%"><feGaussianBlur stdDeviation="2"/></filter>
<filter id="b15" x="-30%" y="-30%" width="160%" height="160%"><feGaussianBlur stdDeviation="1.3"/></filter>
<filter id="b1" x="-30%" y="-30%" width="160%" height="160%"><feGaussianBlur stdDeviation="0.8"/></filter>
<clipPath id="cl1"><rect x="36" y="579" width="112" height="84.2"/></clipPath>
<clipPath id="cl2"><rect x="150" y="579.2" width="112.1" height="84.3"/></clipPath>
</defs>
<rect x="36" y="579" width="112" height="84.2" fill="#050503"/>
<g clip-path="url(#cl1)">
 <g filter="url(#b3)">
  <polygon points="30,575 107,575 113,595 118,615 123,635 129,668 30,668" fill="#741a1e"/>
  <ellipse cx="68" cy="645" rx="20" ry="15" fill="#70401c"/>
  <ellipse cx="44" cy="592" rx="9" ry="12" fill="#48101c"/>
  <ellipse cx="40" cy="645" rx="5" ry="14" fill="#5a1420"/>
  <ellipse cx="103" cy="603" rx="6" ry="15" fill="#8a3a18"/>
  <ellipse cx="108" cy="606" rx="5.5" ry="18" fill="#9a7a28" transform="rotate(-22 108 606)"/>
 </g>
 <g filter="url(#b15)">
  <ellipse cx="72" cy="627" rx="8" ry="12" fill="#2a803a" transform="rotate(-12 72 627)"/>
  <ellipse cx="73" cy="630" rx="4" ry="7" fill="#38a848" transform="rotate(-12 72 627)"/>
  <ellipse cx="101" cy="600" rx="3.2" ry="8" fill="#8aa030"/>
  <ellipse cx="110" cy="612" rx="3" ry="6" fill="#a08a30"/>
  <ellipse cx="114.3" cy="622.6" rx="3" ry="3.5" fill="#8aa030"/>
 </g>
 <g filter="url(#b1)" fill="none" stroke="#dc1e24" stroke-width="2">
  <path d="M78.6,580 Q84,588 90,593 Q97,598 102,603 Q110,610 115,618 Q119,625 120,631" stroke-width="2.8" stroke="#e8242a"/>
  <path d="M96.5,580 Q99,590 103,593 Q110,598 112,602 Q115,606 116,611" stroke="#ec5028" stroke-width="2.4"/>
  <ellipse cx="86.4" cy="614.8" rx="11" ry="7.5" stroke-width="2.8"/>
  <ellipse cx="54" cy="592.5" rx="10" ry="8.5" stroke="#b01a22" stroke-width="1.6"/>
  <ellipse cx="56.3" cy="610.3" rx="8.5" ry="7.5" stroke="#c01c24" stroke-width="1.7"/>
  <path d="M40,614 Q36,635 40,650 Q42,660 40,666" stroke-width="2.4"/>
  <ellipse cx="72" cy="627" rx="9.5" ry="13.5" transform="rotate(-12 72 627)" stroke="#a8a040" stroke-width="1.4"/>
  <path d="M94,622 Q98,635 98,645 Q96,654 100,663"/>
  <ellipse cx="108.5" cy="641.6" rx="8" ry="9"/>
  <path d="M104,666 Q104,648 116.5,645 Q128,647 131,666" stroke-width="3" stroke="#ec2228"/>
  <ellipse cx="97.6" cy="656" rx="8" ry="7"/>
  <ellipse cx="75.3" cy="653.8" rx="8" ry="7" stroke="#b02020"/>
  <path d="M66,606 Q72,600 79,600 Q86,601 92,606"/>
  <ellipse cx="90.9" cy="594.7" rx="7" ry="7"/>
  <path d="M36,626 Q44,622 46,632 Q46,640 42,646" stroke="#b01a20"/>
  <path d="M62,580 Q66,590 64,600" stroke="#c01a20"/>
  <path d="M36,600 Q42,604 44,616" stroke="#c01a20"/>
  <ellipse cx="53" cy="644" rx="9" ry="12" stroke="#a01820"/>
 </g>
 <g filter="url(#b15)">
  <ellipse cx="54" cy="592.5" rx="5.5" ry="4.8" fill="#3a38a8"/>
  <ellipse cx="56.3" cy="610.3" rx="4.8" ry="4.5" fill="#3c3cb4"/>
  <ellipse cx="39.6" cy="609.2" rx="3" ry="6" fill="#34309a"/>
  <ellipse cx="80.8" cy="602.5" rx="6" ry="3.5" fill="#42389e"/>
  <ellipse cx="90.9" cy="594.7" rx="4" ry="5" fill="#6a3aa8"/>
  <ellipse cx="105.4" cy="587" rx="4" ry="5" fill="#6a40b0"/>
  <ellipse cx="115.4" cy="613.7" rx="3" ry="5" fill="#7048b0"/>
  <ellipse cx="86.4" cy="614.8" rx="7.5" ry="4.5" fill="#1c0a0a"/>
  <ellipse cx="86.4" cy="630.4" rx="4" ry="6" fill="#30308c"/>
  <ellipse cx="53" cy="640" rx="5.5" ry="6" fill="#3434a8"/>
  <ellipse cx="55.5" cy="649.4" rx="5" ry="5" fill="#3a40c0"/>
  <ellipse cx="75.3" cy="653.8" rx="5" ry="5" fill="#3438b0"/>
  <ellipse cx="97.6" cy="656" rx="5" ry="4.5" fill="#4a38a8"/>
  <ellipse cx="116.5" cy="656.5" rx="6.5" ry="6.5" fill="#4450dc"/>
  <ellipse cx="38.5" cy="633.8" rx="3" ry="6" fill="#30309a"/>
  <ellipse cx="109.8" cy="641.6" rx="4" ry="4" fill="#5038a0"/>
  <ellipse cx="40.7" cy="660.5" rx="3.5" ry="3" fill="#30309a"/>
  <ellipse cx="67.5" cy="582.5" rx="4" ry="2.5" fill="#34287a"/>
  <ellipse cx="43" cy="582.5" rx="4" ry="2.5" fill="#34287a"/>
  <ellipse cx="94.2" cy="636" rx="3" ry="6" fill="#200c10"/>
 </g>
</g>
<rect x="150" y="579.2" width="112.1" height="84.3" fill="#070804"/>
<g clip-path="url(#cl2)">
 <g filter="url(#b3)">
  <ellipse cx="210" cy="624" rx="34" ry="37" fill="#22080c"/>
  <ellipse cx="205" cy="625" rx="20" ry="26" fill="#3a0a14"/>
  <ellipse cx="244" cy="634" rx="15" ry="15" fill="#28340e"/>
  <ellipse cx="172" cy="628" rx="8" ry="20" fill="#1a2a0c"/>
  <ellipse cx="192" cy="600" rx="10" ry="8" fill="#1a1008"/>
 </g>
 <g filter="url(#b15)" fill="none" stroke="#a8182c" stroke-width="2.4">
  <path d="M184,606 Q186,598 196,596 Q202,594 206,590"/>
  <path d="M183,612 Q181,625 186,636 Q190,634 196,636"/>
  <path d="M205,602 Q212,606 222,603 Q228,601 232,598"/>
  <path d="M206,630 Q212,632 214,640 Q212,646 206,648"/>
  <path d="M224,628 Q230,622 228,614 Q225,606 230,600"/>
  <path d="M186,650 Q194,656 204,654 Q210,660 218,660"/>
  <path d="M226,645 Q232,650 228,658"/>
  <path d="M177,630 Q184,636 186,646"/>
  <path d="M200,606 Q208,612 210,620" stroke="#c01c30"/>
 </g>
 <g filter="url(#b15)">
  <ellipse cx="172" cy="628" rx="5" ry="12" fill="#2a4a18" opacity="0.8"/>
  <ellipse cx="170" cy="623.5" rx="3.8" ry="3.5" fill="#7a9a28"/>
  <ellipse cx="243" cy="633" rx="12" ry="12" fill="#4a6a1c" opacity="0.85"/>
  <ellipse cx="236" cy="628" rx="6" ry="5" fill="#6a8a24" opacity="0.8"/>
  <ellipse cx="232.5" cy="627" rx="2.6" ry="2.6" fill="#f4e860"/>
  <path d="M207,589 Q216,585 227,590" fill="none" stroke="#d85a40" stroke-width="3"/>
  <ellipse cx="203" cy="620" rx="3.8" ry="7" fill="#f01c3c"/>
  <ellipse cx="218" cy="621" rx="6.5" ry="5.5" fill="#a02c98"/>
  <path d="M224,634 L238,641" fill="none" stroke="#a84020" stroke-width="2.2"/>
 </g>
 <g filter="url(#b15)">
  <ellipse cx="172" cy="614" rx="5" ry="5.5" fill="#3444b4"/>
  <ellipse cx="215" cy="596" rx="7.5" ry="4.5" fill="#3836b8"/>
  <ellipse cx="209" cy="584" rx="5" ry="3" fill="#2a2a80"/>
  <ellipse cx="235.5" cy="608.4" rx="5" ry="5" fill="#4048c8"/>
  <ellipse cx="195" cy="619" rx="8" ry="11.5" fill="#4638b0"/>
  <ellipse cx="173" cy="644" rx="6" ry="7" fill="#3848c4"/>
  <ellipse cx="196" cy="644" rx="5" ry="4.8" fill="#3a3cb4"/>
  <ellipse cx="220" cy="640" rx="7" ry="5" fill="#383cb4"/>
  <ellipse cx="214" cy="652" rx="8" ry="6" fill="#3840b4"/>
  <ellipse cx="248" cy="639" rx="6" ry="6" fill="#3644ac"/>
  <ellipse cx="238" cy="626" rx="3.8" ry="5" fill="#3a5090" opacity="0.8"/>
 </g>
</g>

<text x="7.24" y="12.50" font-size="15.5" fill="#1a1a1a" stroke="#1a1a1a" font-weight="bold" textLength="11.16" lengthAdjust="spacingAndGlyphs" >A</text>
<text x="278.08" y="12.60" font-size="15.5" fill="#1a1a1a" stroke="#1a1a1a" font-weight="bold" textLength="10.83" lengthAdjust="spacingAndGlyphs" >B</text>
<text x="7.30" y="199.60" font-size="15.5" fill="#1a1a1a" stroke="#1a1a1a" font-weight="bold" textLength="10.78" lengthAdjust="spacingAndGlyphs" >C</text>
<text x="275.42" y="199.20" font-size="15.5" fill="#1a1a1a" stroke="#1a1a1a" font-weight="bold" textLength="10.44" lengthAdjust="spacingAndGlyphs" >D</text>
<text x="7.75" y="375.90" font-size="15.5" fill="#1a1a1a" stroke="#1a1a1a" font-weight="bold" textLength="9.93" lengthAdjust="spacingAndGlyphs" >E</text>
<text x="276.99" y="377.60" font-size="15.5" fill="#1a1a1a" stroke="#1a1a1a" font-weight="bold" textLength="9.31" lengthAdjust="spacingAndGlyphs" >F</text>
<text x="10.12" y="575.40" font-size="15.5" fill="#1a1a1a" stroke="#1a1a1a" font-weight="bold" textLength="11.88" lengthAdjust="spacingAndGlyphs" >G</text>
<text x="49.18" y="19.30" font-size="12.6" fill="#1a1a1a" stroke="#1a1a1a" textLength="43.24" lengthAdjust="spacingAndGlyphs" >UMUC4</text>
<text x="333.61" y="19.20" font-size="12.6" fill="#1a1a1a" stroke="#1a1a1a" textLength="29.14" lengthAdjust="spacingAndGlyphs" >H841</text>
<text x="55.18" y="206.70" font-size="12.6" fill="#1a1a1a" stroke="#1a1a1a" textLength="32.15" lengthAdjust="spacingAndGlyphs" >OV90</text>
<text x="333.33" y="206.60" font-size="12.6" fill="#1a1a1a" stroke="#1a1a1a" textLength="30.76" lengthAdjust="spacingAndGlyphs" >M202</text>
<text x="336.12" y="389.70" font-size="12.6" fill="#1a1a1a" stroke="#1a1a1a" textLength="112.88" lengthAdjust="spacingAndGlyphs" >UMUC4 - NSG mice</text>
</svg></body></html>
